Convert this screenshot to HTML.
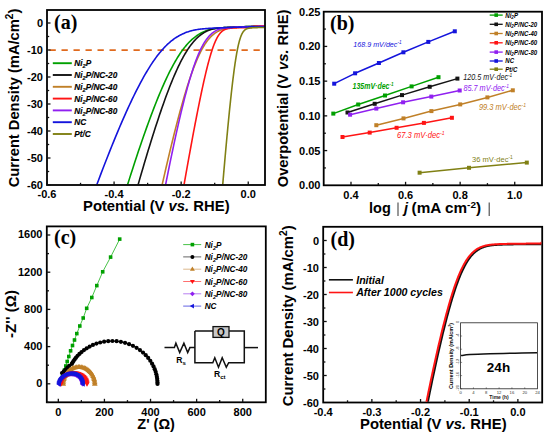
<!DOCTYPE html><html><head><meta charset="utf-8"><style>html,body{margin:0;padding:0;background:#fff;}svg{display:block;}</style></head><body>
<svg width="550" height="436" viewBox="0 0 550 436">
<rect width="550" height="436" fill="#fff"/>
<clipPath id="ca"><rect x="47.8" y="10.8" width="216.4" height="173.4"/></clipPath>
<g clip-path="url(#ca)">
<line x1="49.5" y1="50.2" x2="262" y2="50.2" stroke="#e06a1e" stroke-width="1.8" stroke-dasharray="6.3,5.7"/>
<path d="M126.84,187.00 L128.93,180.38 L130.96,174.03 L132.93,167.94 L134.84,162.10 L136.68,156.49 L138.48,151.12 L140.22,145.97 L141.91,141.03 L143.56,136.29 L145.16,131.75 L146.71,127.39 L148.22,123.21 L149.69,119.21 L151.12,115.36 L152.51,111.68 L153.87,108.14 L155.19,104.75 L156.48,101.50 L157.73,98.39 L158.96,95.40 L160.16,92.53 L161.33,89.78 L162.47,87.14 L163.59,84.61 L164.68,82.19 L165.75,79.86 L166.79,77.63 L167.81,75.49 L168.82,73.44 L169.80,71.48 L170.76,69.59 L171.71,67.78 L172.63,66.05 L173.54,64.38 L174.44,62.79 L175.32,61.26 L176.18,59.79 L177.03,58.38 L177.86,57.03 L178.68,55.74 L179.49,54.50 L180.29,53.30 L181.08,52.16 L181.85,51.07 L182.61,50.02 L183.37,49.01 L184.11,48.05 L184.84,47.12 L185.57,46.23 L186.28,45.38 L186.99,44.56 L187.69,43.78 L188.38,43.03 L189.07,42.31 L189.75,41.62 L190.42,40.96 L191.08,40.32 L191.74,39.71 L192.39,39.13 L193.04,38.57 L193.68,38.03 L194.32,37.51 L194.95,37.02 L195.57,36.55 L196.19,36.09 L196.81,35.66 L197.42,35.24 L198.03,34.84 L198.64,34.45 L199.24,34.08 L199.83,33.73 L200.43,33.39 L201.02,33.07 L201.61,32.76 L202.19,32.46 L202.77,32.17 L203.35,31.90 L203.92,31.64 L204.50,31.39 L205.07,31.15 L205.64,30.93 L206.20,30.71 L206.77,30.51 L207.33,30.31 L207.89,30.13 L208.45,29.95 L209.00,29.79 L209.56,29.63 L210.11,29.49 L210.66,29.35 L211.21,29.22 L211.76,29.10 L212.30,28.99 L212.85,28.88 L213.39,28.78 L213.93,28.69 L214.48,28.60 L215.02,28.52 L215.56,28.45 L216.09,28.38 L216.63,28.31 L217.17,28.25 L217.70,28.19 L218.23,28.14 L218.77,28.08 L219.30,28.03 L219.83,27.99 L220.36,27.94 L220.89,27.90 L221.42,27.86 L221.95,27.82 L222.48,27.78 L223.01,27.74 L223.53,27.71 L224.06,27.67 L224.58,27.64 L225.11,27.61 L225.63,27.58 L226.16,27.55 L226.68,27.52 L227.20,27.49 L227.73,27.46 L228.25,27.43 L228.77,27.40 L229.29,27.38 L229.81,27.35 L230.34,27.32 L230.86,27.30 L231.38,27.27 L231.90,27.25 L232.42,27.22 L232.94,27.20 L233.45,27.17 L233.97,27.15 L234.49,27.13 L235.01,27.10 L235.53,27.08 L236.05,27.06 L236.56,27.03 L237.08,27.01 L237.60,26.99 L238.12,26.97 L238.63,26.95 L239.15,26.92 L239.67,26.90 L240.18,26.88 L240.70,26.86 L241.22,26.84 L241.73,26.82 L242.25,26.80 L242.76,26.78 L243.28,26.76 L243.79,26.74 L244.31,26.72 L244.82,26.70 L245.34,26.68 L245.86,26.66 L246.37,26.64 L246.89,26.62 L247.40,26.60 L247.91,26.59 L248.43,26.57 L248.94,26.55 L249.46,26.53 L249.97,26.51 L250.49,26.50 L251.00,26.48 L251.52,26.46 L252.03,26.44 L252.54,26.43 L253.06,26.41 L253.57,26.39 L254.09,26.38 L254.60,26.36 L255.11,26.34 L255.63,26.33 L256.14,26.31 L256.66,26.30 L257.17,26.28 L257.68,26.27 L258.20,26.25 L258.71,26.24 L259.22,26.22 L259.74,26.21 L260.25,26.19 L260.76,26.18 L261.28,26.16 L261.79,26.15 L262.30,26.14 L262.82,26.12 L263.33,26.11 L263.84,26.10 L264.36,26.08 L264.87,26.07 L265.38,26.06 L265.90,26.05 L266.00,25.47" fill="none" stroke="#00a000" stroke-width="1.6" stroke-linejoin="round" stroke-linecap="butt" />
<path d="M137.44,187.00 L139.34,180.37 L141.18,174.02 L142.97,167.92 L144.70,162.08 L146.37,156.47 L148.00,151.10 L149.58,145.94 L151.11,141.00 L152.59,136.26 L154.04,131.71 L155.44,127.35 L156.80,123.17 L158.13,119.16 L159.41,115.32 L160.67,111.63 L161.89,108.09 L163.08,104.70 L164.23,101.45 L165.36,98.33 L166.46,95.34 L167.53,92.47 L168.58,89.72 L169.60,87.08 L170.60,84.55 L171.58,82.12 L172.53,79.79 L173.46,77.56 L174.37,75.42 L175.27,73.37 L176.14,71.40 L177.00,69.51 L177.83,67.70 L178.66,65.97 L179.46,64.30 L180.26,62.71 L181.03,61.17 L181.80,59.71 L182.55,58.30 L183.28,56.95 L184.01,55.65 L184.72,54.41 L185.42,53.22 L186.12,52.08 L186.80,50.98 L187.47,49.93 L188.13,48.92 L188.78,47.96 L189.43,47.03 L190.06,46.14 L190.69,45.29 L191.31,44.47 L191.92,43.69 L192.53,42.94 L193.12,42.22 L193.72,41.53 L194.30,40.86 L194.88,40.23 L195.46,39.62 L196.02,39.03 L196.59,38.47 L197.14,37.93 L197.70,37.42 L198.25,36.92 L198.79,36.45 L199.33,36.00 L199.87,35.56 L200.40,35.14 L200.92,34.74 L201.45,34.36 L201.97,33.99 L202.49,33.63 L203.00,33.30 L203.51,32.97 L204.02,32.66 L204.53,32.36 L205.03,32.08 L205.53,31.80 L206.03,31.54 L206.52,31.29 L207.01,31.06 L207.50,30.83 L207.99,30.61 L208.48,30.41 L208.96,30.21 L209.45,30.03 L209.93,29.86 L210.41,29.69 L210.88,29.54 L211.36,29.39 L211.83,29.26 L212.31,29.13 L212.78,29.01 L213.25,28.90 L213.72,28.80 L214.19,28.70 L214.65,28.61 L215.12,28.53 L215.58,28.45 L216.05,28.38 L216.51,28.32 L216.97,28.25 L217.43,28.19 L217.89,28.14 L218.35,28.09 L218.81,28.04 L219.26,27.99 L219.72,27.95 L220.18,27.91 L220.63,27.87 L221.09,27.83 L221.54,27.80 L221.99,27.76 L222.45,27.73 L222.90,27.70 L223.35,27.67 L223.80,27.64 L224.25,27.61 L224.70,27.58 L225.15,27.55 L225.60,27.52 L226.05,27.50 L226.50,27.47 L226.95,27.45 L227.39,27.42 L227.84,27.40 L228.29,27.38 L228.73,27.35 L229.18,27.33 L229.63,27.31 L230.07,27.29 L230.52,27.26 L230.96,27.24 L231.41,27.22 L231.85,27.20 L232.30,27.18 L232.74,27.16 L233.19,27.14 L233.63,27.12 L234.07,27.10 L234.52,27.08 L234.96,27.06 L235.40,27.04 L235.85,27.02 L236.29,27.00 L236.73,26.98 L237.17,26.96 L237.62,26.94 L238.06,26.92 L238.50,26.91 L238.94,26.89 L239.39,26.87 L239.83,26.85 L240.27,26.83 L240.71,26.81 L241.15,26.80 L241.59,26.78 L242.04,26.76 L242.48,26.74 L242.92,26.73 L243.36,26.71 L243.80,26.69 L244.24,26.68 L244.68,26.66 L245.12,26.64 L245.56,26.63 L246.00,26.61 L246.44,26.59 L246.88,26.58 L247.33,26.56 L247.77,26.54 L248.21,26.53 L248.65,26.51 L249.09,26.50 L249.53,26.48 L249.97,26.47 L250.41,26.45 L250.85,26.44 L251.29,26.42 L251.73,26.40 L252.17,26.39 L252.61,26.38 L253.05,26.36 L253.49,26.35 L253.93,26.33 L254.37,26.32 L254.81,26.30 L255.25,26.29 L255.69,26.28 L256.13,26.26 L256.57,26.25 L257.01,26.23 L257.45,26.22 L257.89,26.21 L258.32,26.19 L258.76,26.18 L259.20,26.17 L259.64,26.16 L260.08,26.14 L260.52,26.13 L260.96,26.12 L261.40,26.10 L261.84,26.09 L262.28,26.08 L262.72,26.07 L263.16,26.06 L263.60,26.05 L264.04,26.03 L264.48,26.02 L264.92,26.01 L265.36,26.00 L265.80,25.99 L266.00,25.47" fill="none" stroke="#141414" stroke-width="1.6" stroke-linejoin="round" stroke-linecap="butt" />
<path d="M161.65,187.00 L163.13,180.41 L164.58,174.09 L165.97,168.03 L167.33,162.21 L168.64,156.64 L169.92,151.29 L171.16,146.17 L172.36,141.25 L173.53,136.53 L174.66,132.01 L175.76,127.67 L176.84,123.51 L177.88,119.53 L178.90,115.70 L179.88,112.03 L180.85,108.51 L181.79,105.14 L182.70,101.90 L183.59,98.80 L184.46,95.82 L185.31,92.97 L186.14,90.23 L186.95,87.61 L187.74,85.09 L188.52,82.67 L189.28,80.36 L190.02,78.14 L190.74,76.01 L191.45,73.97 L192.15,72.01 L192.83,70.13 L193.50,68.33 L194.16,66.60 L194.80,64.94 L195.44,63.35 L196.06,61.83 L196.67,60.37 L197.27,58.97 L197.86,57.62 L198.45,56.34 L199.02,55.10 L199.58,53.91 L200.14,52.78 L200.69,51.69 L201.23,50.64 L201.76,49.64 L202.29,48.68 L202.81,47.75 L203.32,46.87 L203.83,46.02 L204.33,45.21 L204.82,44.43 L205.31,43.68 L205.80,42.96 L206.28,42.27 L206.75,41.61 L207.22,40.98 L207.69,40.37 L208.15,39.79 L208.60,39.23 L209.06,38.70 L209.51,38.19 L209.95,37.69 L210.39,37.22 L210.83,36.77 L211.27,36.33 L211.70,35.92 L212.13,35.52 L212.56,35.13 L212.98,34.77 L213.41,34.42 L213.83,34.08 L214.24,33.75 L214.66,33.44 L215.07,33.15 L215.48,32.86 L215.89,32.59 L216.30,32.32 L216.70,32.07 L217.10,31.83 L217.50,31.60 L217.90,31.38 L218.30,31.17 L218.70,30.97 L219.09,30.78 L219.49,30.60 L219.88,30.42 L220.27,30.25 L220.66,30.09 L221.05,29.94 L221.44,29.80 L221.83,29.66 L222.21,29.53 L222.60,29.41 L222.98,29.29 L223.36,29.18 L223.74,29.08 L224.13,28.98 L224.51,28.89 L224.89,28.80 L225.26,28.72 L225.64,28.64 L226.02,28.57 L226.40,28.50 L226.77,28.43 L227.15,28.37 L227.52,28.31 L227.90,28.25 L228.27,28.20 L228.65,28.15 L229.02,28.10 L229.39,28.06 L229.76,28.02 L230.13,27.98 L230.51,27.94 L230.88,27.90 L231.25,27.86 L231.62,27.83 L231.99,27.80 L232.36,27.76 L232.73,27.73 L233.09,27.71 L233.46,27.68 L233.83,27.65 L234.20,27.62 L234.57,27.60 L234.93,27.57 L235.30,27.55 L235.67,27.53 L236.04,27.50 L236.40,27.48 L236.77,27.46 L237.14,27.44 L237.50,27.42 L237.87,27.40 L238.23,27.38 L238.60,27.36 L238.96,27.34 L239.33,27.32 L239.69,27.31 L240.06,27.29 L240.42,27.27 L240.79,27.26 L241.15,27.24 L241.52,27.22 L241.88,27.21 L242.25,27.19 L242.61,27.18 L242.97,27.16 L243.34,27.15 L243.70,27.13 L244.07,27.12 L244.43,27.10 L244.79,27.09 L245.16,27.07 L245.52,27.06 L245.88,27.05 L246.25,27.03 L246.61,27.02 L246.97,27.01 L247.34,27.00 L247.70,26.98 L248.06,26.97 L248.42,26.96 L248.79,26.95 L249.15,26.94 L249.51,26.92 L249.88,26.91 L250.24,26.90 L250.60,26.89 L250.96,26.88 L251.33,26.87 L251.69,26.86 L252.05,26.85 L252.41,26.84 L252.78,26.83 L253.14,26.82 L253.50,26.80 L253.86,26.79 L254.23,26.79 L254.59,26.78 L254.95,26.77 L255.31,26.76 L255.67,26.75 L256.04,26.74 L256.40,26.73 L256.76,26.72 L257.12,26.71 L257.49,26.70 L257.85,26.69 L258.21,26.69 L258.57,26.68 L258.93,26.67 L259.30,26.66 L259.66,26.65 L260.02,26.64 L260.38,26.64 L260.74,26.63 L261.11,26.62 L261.47,26.61 L261.83,26.61 L262.19,26.60 L262.55,26.59 L262.92,26.59 L263.28,26.58 L263.64,26.57 L264.00,26.56 L264.36,26.56 L264.73,26.55 L265.09,26.54 L265.45,26.54 L265.81,26.53 L266.00,25.67" fill="none" stroke="#c08028" stroke-width="1.6" stroke-linejoin="round" stroke-linecap="butt" />
<path d="M183.66,187.00 L184.80,180.46 L185.91,174.19 L186.98,168.18 L188.01,162.41 L189.00,156.88 L189.97,151.58 L190.90,146.49 L191.80,141.62 L192.66,136.94 L193.50,132.45 L194.32,128.15 L195.10,124.02 L195.87,120.06 L196.60,116.27 L197.32,112.63 L198.01,109.14 L198.68,105.79 L199.33,102.58 L199.96,99.50 L200.57,96.54 L201.17,93.71 L201.74,90.99 L202.30,88.39 L202.85,85.89 L203.38,83.49 L203.89,81.19 L204.39,78.99 L204.88,76.88 L205.35,74.85 L205.81,72.90 L206.26,71.04 L206.70,69.25 L207.13,67.54 L207.54,65.89 L207.95,64.31 L208.35,62.80 L208.73,61.35 L209.11,59.96 L209.48,58.62 L209.85,57.34 L210.20,56.12 L210.55,54.94 L210.89,53.81 L211.22,52.73 L211.55,51.69 L211.87,50.69 L212.18,49.74 L212.49,48.82 L212.79,47.94 L213.09,47.10 L213.38,46.29 L213.67,45.52 L213.95,44.77 L214.23,44.06 L214.50,43.38 L214.77,42.72 L215.03,42.09 L215.29,41.49 L215.55,40.91 L215.81,40.36 L216.06,39.83 L216.30,39.32 L216.55,38.83 L216.79,38.36 L217.03,37.91 L217.27,37.48 L217.50,37.06 L217.73,36.66 L217.96,36.28 L218.18,35.92 L218.41,35.57 L218.63,35.23 L218.85,34.91 L219.06,34.60 L219.28,34.31 L219.49,34.02 L219.71,33.75 L219.92,33.49 L220.13,33.24 L220.33,33.00 L220.54,32.77 L220.74,32.55 L220.95,32.34 L221.15,32.13 L221.35,31.94 L221.55,31.75 L221.75,31.57 L221.94,31.40 L222.14,31.24 L222.33,31.08 L222.53,30.93 L222.72,30.79 L222.91,30.65 L223.10,30.52 L223.30,30.40 L223.49,30.28 L223.67,30.17 L223.86,30.06 L224.05,29.95 L224.24,29.85 L224.42,29.76 L224.61,29.67 L224.79,29.58 L224.98,29.50 L225.16,29.42 L225.35,29.35 L225.53,29.28 L225.71,29.21 L225.89,29.15 L226.08,29.09 L226.26,29.03 L226.44,28.97 L226.62,28.92 L226.80,28.87 L226.98,28.82 L227.16,28.78 L227.34,28.74 L227.52,28.70 L227.69,28.66 L227.87,28.62 L228.05,28.58 L228.23,28.55 L228.40,28.52 L228.58,28.49 L228.76,28.46 L228.94,28.43 L229.11,28.40 L229.29,28.38 L229.46,28.35 L229.64,28.33 L229.82,28.30 L229.99,28.28 L230.17,28.26 L230.34,28.24 L230.52,28.22 L230.69,28.20 L230.87,28.19 L231.04,28.17 L231.22,28.15 L231.39,28.14 L231.56,28.12 L231.74,28.11 L231.91,28.09 L232.09,28.08 L232.26,28.07 L232.43,28.05 L232.61,28.04 L232.78,28.03 L232.95,28.02 L233.13,28.01 L233.30,28.00 L233.47,27.99 L233.65,27.98 L233.82,27.97 L233.99,27.96 L234.17,27.95 L234.34,27.94 L234.51,27.93 L234.68,27.92 L234.86,27.91 L235.03,27.90 L235.20,27.90 L235.38,27.89 L235.55,27.88 L235.72,27.87 L235.89,27.87 L236.06,27.86 L236.24,27.85 L236.41,27.85 L236.58,27.84 L236.75,27.84 L236.93,27.83 L237.10,27.82 L237.27,27.82 L237.44,27.81 L237.61,27.81 L237.79,27.80 L237.96,27.80 L238.13,27.79 L238.30,27.79 L238.47,27.78 L238.65,27.78 L238.82,27.77 L238.99,27.77 L239.16,27.76 L239.33,27.76 L239.51,27.75 L239.68,27.75 L239.85,27.74 L240.02,27.74 L240.19,27.74 L240.37,27.73 L240.54,27.73 L240.71,27.72 L240.88,27.72 L241.05,27.72 L241.22,27.71 L241.40,27.71 L241.57,27.71 L241.74,27.70 L241.91,27.70 L242.08,27.70 L242.25,27.69 L242.43,27.69 L242.60,27.69 L242.77,27.68 L242.94,27.68 L243.11,27.68 L243.28,27.67 L243.46,27.67 L243.63,27.67 L243.80,27.66 L243.97,27.66 L244.14,27.66 L244.31,27.66 L244.48,27.65 L244.66,27.65 L244.83,27.65 L245.00,27.65 L245.17,27.64 L245.34,27.64 L245.51,27.64 L245.69,27.63 L245.86,27.63 L246.03,27.63 L246.20,27.63 L246.37,27.62 L246.54,27.62 L246.71,27.62 L246.89,27.62 L247.06,27.62 L247.23,27.61 L247.40,27.61 L247.57,27.61 L247.74,27.61 L247.91,27.60 L248.09,27.60 L248.26,27.60 L248.43,27.60 L248.60,27.60 L248.77,27.59 L248.94,27.59 L249.12,27.59 L249.29,27.59 L249.46,27.59 L249.63,27.58 L249.80,27.58 L249.97,27.58 L250.14,27.58 L250.32,27.58 L250.49,27.57 L250.66,27.57 L250.83,27.57 L251.00,27.57 L251.17,27.57 L251.34,27.56 L251.52,27.56 L251.69,27.56 L251.86,27.56 L253.27,26.25 L254.69,26.18 L256.10,26.12 L257.52,26.06 L258.93,25.99 L260.34,25.93 L261.76,25.87 L263.17,25.80 L264.59,25.74 L266.00,25.67" fill="none" stroke="#ff1414" stroke-width="1.6" stroke-linejoin="round" stroke-linecap="butt" />
<path d="M165.15,187.00 L166.46,180.40 L167.72,174.06 L168.95,167.99 L170.15,162.17 L171.30,156.58 L172.43,151.22 L173.52,146.09 L174.58,141.16 L175.61,136.43 L176.61,131.90 L177.58,127.56 L178.53,123.39 L179.45,119.39 L180.34,115.56 L181.22,111.88 L182.07,108.36 L182.90,104.98 L183.71,101.74 L184.50,98.63 L185.27,95.65 L186.02,92.79 L186.76,90.04 L187.47,87.41 L188.18,84.89 L188.86,82.47 L189.53,80.15 L190.19,77.93 L190.84,75.80 L191.47,73.75 L192.09,71.79 L192.69,69.91 L193.29,68.10 L193.87,66.37 L194.45,64.71 L195.01,63.12 L195.57,61.59 L196.11,60.13 L196.65,58.72 L197.18,57.38 L197.70,56.09 L198.21,54.85 L198.71,53.66 L199.21,52.52 L199.70,51.43 L200.18,50.38 L200.66,49.38 L201.13,48.42 L201.59,47.49 L202.05,46.61 L202.51,45.76 L202.96,44.94 L203.40,44.16 L203.84,43.41 L204.27,42.69 L204.70,42.00 L205.13,41.34 L205.55,40.71 L205.97,40.10 L206.38,39.52 L206.79,38.96 L207.20,38.42 L207.60,37.91 L208.00,37.41 L208.40,36.94 L208.80,36.49 L209.19,36.05 L209.58,35.64 L209.97,35.24 L210.35,34.85 L210.73,34.48 L211.11,34.13 L211.49,33.79 L211.87,33.47 L212.24,33.16 L212.61,32.86 L212.98,32.57 L213.35,32.30 L213.72,32.04 L214.08,31.79 L214.45,31.55 L214.81,31.32 L215.17,31.10 L215.53,30.89 L215.89,30.69 L216.24,30.50 L216.60,30.31 L216.95,30.14 L217.31,29.97 L217.66,29.82 L218.01,29.67 L218.36,29.53 L218.71,29.39 L219.06,29.27 L219.41,29.15 L219.75,29.04 L220.10,28.93 L220.45,28.83 L220.79,28.74 L221.13,28.65 L221.48,28.57 L221.82,28.49 L222.16,28.41 L222.50,28.35 L222.84,28.28 L223.18,28.22 L223.52,28.16 L223.86,28.11 L224.20,28.06 L224.54,28.01 L224.88,27.97 L225.22,27.92 L225.55,27.88 L225.89,27.84 L226.23,27.81 L226.56,27.77 L226.90,27.74 L227.23,27.71 L227.57,27.68 L227.90,27.65 L228.24,27.62 L228.57,27.59 L228.90,27.57 L229.24,27.54 L229.57,27.52 L229.91,27.49 L230.24,27.47 L230.57,27.45 L230.90,27.43 L231.24,27.41 L231.57,27.38 L231.90,27.37 L232.23,27.35 L232.56,27.33 L232.89,27.31 L233.23,27.29 L233.56,27.27 L233.89,27.25 L234.22,27.24 L234.55,27.22 L234.88,27.20 L235.21,27.19 L235.54,27.17 L235.87,27.16 L236.20,27.14 L236.53,27.13 L236.86,27.11 L237.19,27.10 L237.52,27.08 L237.85,27.07 L238.18,27.05 L238.51,27.04 L238.84,27.03 L239.17,27.01 L239.50,27.00 L239.83,26.98 L240.16,26.97 L240.48,26.96 L240.81,26.95 L241.14,26.93 L241.47,26.92 L241.80,26.91 L242.13,26.90 L242.46,26.88 L242.79,26.87 L243.12,26.86 L243.44,26.85 L243.77,26.84 L244.10,26.82 L244.43,26.81 L244.76,26.80 L245.09,26.79 L245.41,26.78 L245.74,26.77 L246.07,26.76 L246.40,26.75 L246.73,26.73 L247.06,26.72 L247.38,26.71 L247.71,26.70 L248.04,26.69 L248.37,26.68 L248.70,26.67 L249.03,26.66 L249.35,26.65 L249.68,26.64 L250.01,26.63 L250.34,26.62 L250.67,26.61 L250.99,26.60 L251.32,26.59 L251.65,26.59 L251.98,26.58 L252.31,26.57 L252.63,26.56 L252.96,26.55 L253.29,26.54 L253.62,26.53 L253.95,26.52 L254.27,26.51 L254.60,26.51 L254.93,26.50 L255.26,26.49 L255.59,26.48 L255.91,26.47 L256.24,26.46 L256.57,26.46 L256.90,26.45 L257.22,26.44 L257.55,26.43 L257.88,26.42 L258.21,26.42 L258.54,26.41 L258.86,26.40 L259.19,26.39 L259.52,26.39 L259.85,26.38 L260.17,26.37 L260.50,26.37 L260.83,26.36 L261.16,26.35 L261.49,26.35 L261.81,26.34 L262.14,26.33 L262.47,26.33 L262.80,26.32 L263.12,26.31 L263.45,26.31 L263.78,26.30 L264.11,26.29 L264.44,26.29 L264.76,26.28 L265.09,26.28 L265.42,26.27 L265.75,26.26 L266.00,25.47" fill="none" stroke="#9020f0" stroke-width="1.6" stroke-linejoin="round" stroke-linecap="butt" />
<path d="M95.93,187.00 L98.41,180.42 L100.80,174.11 L103.13,168.06 L105.38,162.26 L107.56,156.70 L109.68,151.36 L111.73,146.24 L113.72,141.34 L115.66,136.63 L117.54,132.11 L119.37,127.79 L121.14,123.63 L122.87,119.65 L124.55,115.83 L126.19,112.17 L127.78,108.66 L129.33,105.29 L130.84,102.06 L132.31,98.96 L133.75,95.99 L135.15,93.14 L136.52,90.41 L137.85,87.79 L139.16,85.28 L140.43,82.87 L141.68,80.56 L142.90,78.34 L144.09,76.21 L145.26,74.17 L146.41,72.22 L147.53,70.34 L148.63,68.55 L149.70,66.82 L150.76,65.17 L151.80,63.58 L152.82,62.06 L153.82,60.60 L154.81,59.20 L155.77,57.86 L156.73,56.57 L157.66,55.34 L158.58,54.15 L159.49,53.02 L160.39,51.93 L161.27,50.89 L162.14,49.89 L163.00,48.93 L163.85,48.01 L164.68,47.12 L165.51,46.28 L166.32,45.46 L167.13,44.68 L167.93,43.94 L168.71,43.22 L169.49,42.53 L170.26,41.87 L171.03,41.24 L171.78,40.64 L172.53,40.06 L173.28,39.50 L174.01,38.96 L174.74,38.45 L175.46,37.96 L176.18,37.49 L176.89,37.04 L177.60,36.60 L178.30,36.19 L179.00,35.79 L179.69,35.41 L180.38,35.04 L181.06,34.69 L181.74,34.35 L182.41,34.03 L183.09,33.72 L183.75,33.42 L184.42,33.14 L185.08,32.86 L185.74,32.60 L186.39,32.36 L187.04,32.12 L187.69,31.89 L188.34,31.67 L188.98,31.47 L189.62,31.27 L190.26,31.08 L190.89,30.90 L191.53,30.74 L192.16,30.58 L192.79,30.42 L193.42,30.28 L194.04,30.15 L194.67,30.02 L195.29,29.90 L195.91,29.78 L196.53,29.68 L197.15,29.58 L197.76,29.48 L198.38,29.39 L198.99,29.31 L199.60,29.23 L200.21,29.15 L200.82,29.08 L201.43,29.02 L202.04,28.95 L202.64,28.89 L203.25,28.84 L203.85,28.78 L204.46,28.73 L205.06,28.68 L205.66,28.63 L206.26,28.58 L206.86,28.54 L207.46,28.50 L208.06,28.46 L208.66,28.42 L209.26,28.38 L209.85,28.34 L210.45,28.31 L211.04,28.27 L211.64,28.24 L212.23,28.20 L212.83,28.17 L213.42,28.14 L214.01,28.11 L214.61,28.08 L215.20,28.05 L215.79,28.02 L216.38,27.99 L216.97,27.96 L217.56,27.93 L218.15,27.90 L218.74,27.88 L219.33,27.85 L219.92,27.83 L220.51,27.80 L221.10,27.77 L221.69,27.75 L222.28,27.72 L222.86,27.70 L223.45,27.68 L224.04,27.65 L224.63,27.63 L225.21,27.61 L225.80,27.58 L226.39,27.56 L226.97,27.54 L227.56,27.52 L228.14,27.50 L228.73,27.48 L229.32,27.46 L229.90,27.44 L230.49,27.41 L231.07,27.39 L231.66,27.38 L232.24,27.36 L232.83,27.34 L233.41,27.32 L234.00,27.30 L234.58,27.28 L235.16,27.26 L235.75,27.25 L236.33,27.23 L236.92,27.21 L237.50,27.19 L238.09,27.18 L238.67,27.16 L239.25,27.14 L239.84,27.13 L240.42,27.11 L241.00,27.10 L241.59,27.08 L242.17,27.07 L242.75,27.05 L243.34,27.04 L243.92,27.02 L244.50,27.01 L245.09,27.00 L245.67,26.98 L246.25,26.97 L246.84,26.96 L247.42,26.94 L248.00,26.93 L248.58,26.92 L249.17,26.91 L249.75,26.89 L250.33,26.88 L250.92,26.87 L251.50,26.86 L252.08,26.85 L252.66,26.84 L253.25,26.83 L253.83,26.82 L254.41,26.81 L254.99,26.80 L255.58,26.79 L256.16,26.78 L256.74,26.77 L257.32,26.76 L257.91,26.75 L258.49,26.75 L259.07,26.74 L259.65,26.73 L260.24,26.72 L260.82,26.71 L261.40,26.71 L261.98,26.70 L262.57,26.69 L263.15,26.69 L263.73,26.68 L264.31,26.67 L264.89,26.67 L265.48,26.66 L266.00,25.37" fill="none" stroke="#1414dc" stroke-width="1.6" stroke-linejoin="round" stroke-linecap="butt" />
<path d="M222.52,187.00 L223.08,180.44 L223.62,174.16 L224.14,168.13 L224.65,162.35 L225.14,156.80 L225.61,151.48 L226.07,146.38 L226.52,141.49 L226.95,136.80 L227.38,132.30 L227.78,127.98 L228.18,123.84 L228.57,119.88 L228.94,116.07 L229.31,112.42 L229.66,108.92 L230.01,105.56 L230.35,102.34 L230.68,99.25 L231.00,96.29 L231.31,93.45 L231.61,90.73 L231.91,88.12 L232.20,85.61 L232.48,83.21 L232.76,80.90 L233.03,78.69 L233.29,76.57 L233.55,74.54 L233.80,72.59 L234.05,70.72 L234.29,68.93 L234.53,67.21 L234.76,65.56 L234.99,63.98 L235.22,62.46 L235.44,61.01 L235.65,59.61 L235.87,58.28 L236.08,56.99 L236.28,55.76 L236.48,54.58 L236.68,53.45 L236.88,52.36 L237.07,51.32 L237.26,50.32 L237.45,49.37 L237.63,48.45 L237.82,47.57 L238.00,46.72 L238.17,45.91 L238.35,45.14 L238.52,44.39 L238.70,43.68 L238.87,42.99 L239.03,42.34 L239.20,41.71 L239.36,41.10 L239.53,40.52 L239.69,39.97 L239.85,39.43 L240.00,38.92 L240.16,38.43 L240.32,37.96 L240.47,37.51 L240.62,37.08 L240.78,36.66 L240.93,36.27 L241.08,35.88 L241.22,35.52 L241.37,35.17 L241.52,34.83 L241.66,34.51 L241.81,34.20 L241.95,33.91 L242.10,33.62 L242.24,33.35 L242.38,33.09 L242.52,32.84 L242.66,32.61 L242.80,32.38 L242.94,32.16 L243.08,31.95 L243.22,31.75 L243.35,31.56 L243.49,31.38 L243.63,31.21 L243.76,31.04 L243.90,30.88 L244.03,30.73 L244.17,30.59 L244.30,30.45 L244.43,30.32 L244.57,30.19 L244.70,30.07 L244.83,29.96 L244.96,29.85 L245.10,29.75 L245.23,29.65 L245.36,29.56 L245.49,29.47 L245.62,29.39 L245.75,29.31 L245.88,29.23 L246.01,29.16 L246.14,29.09 L246.27,29.02 L246.40,28.96 L246.53,28.90 L246.66,28.85 L246.79,28.79 L246.91,28.74 L247.04,28.69 L247.17,28.65 L247.30,28.60 L247.43,28.56 L247.55,28.52 L247.68,28.48 L247.81,28.45 L247.94,28.41 L248.06,28.38 L248.19,28.35 L248.32,28.31 L248.45,28.29 L248.57,28.26 L248.70,28.23 L248.83,28.21 L248.95,28.18 L249.08,28.16 L249.20,28.14 L249.33,28.12 L249.46,28.09 L249.58,28.08 L249.71,28.06 L249.83,28.04 L249.96,28.02 L250.09,28.00 L250.21,27.99 L250.34,27.97 L250.46,27.96 L250.59,27.94 L250.71,27.93 L250.84,27.92 L250.97,27.90 L251.09,27.89 L251.22,27.88 L251.34,27.87 L251.47,27.86 L251.59,27.85 L251.72,27.84 L251.84,27.83 L251.97,27.82 L252.09,27.81 L252.22,27.80 L252.34,27.79 L252.47,27.78 L252.59,27.77 L252.72,27.77 L252.84,27.76 L252.97,27.75 L253.09,27.74 L253.22,27.74 L253.34,27.73 L253.47,27.72 L253.59,27.72 L253.72,27.71 L253.84,27.70 L253.97,27.70 L254.09,27.69 L254.22,27.69 L254.34,27.68 L254.47,27.68 L254.59,27.67 L254.71,27.67 L254.84,27.66 L254.96,27.66 L255.09,27.65 L255.21,27.65 L255.34,27.64 L255.46,27.64 L255.59,27.63 L255.71,27.63 L255.84,27.63 L255.96,27.62 L256.09,27.62 L256.21,27.61 L256.33,27.61 L256.46,27.61 L256.58,27.60 L256.71,27.60 L256.83,27.60 L256.96,27.59 L257.08,27.59 L257.21,27.59 L257.33,27.58 L257.45,27.58 L257.58,27.58 L257.70,27.57 L257.83,27.57 L257.95,27.57 L258.08,27.56 L258.20,27.56 L258.33,27.56 L258.45,27.55 L258.57,27.55 L258.70,27.55 L258.82,27.55 L258.95,27.54 L259.07,27.54 L259.20,27.54 L259.32,27.54 L259.45,27.53 L259.57,27.53 L259.69,27.53 L259.82,27.53 L259.94,27.52 L260.07,27.52 L260.19,27.52 L260.32,27.52 L260.44,27.51 L260.57,27.51 L260.69,27.51 L260.81,27.51 L260.94,27.50 L261.06,27.50 L261.19,27.50 L261.31,27.50 L261.44,27.50 L261.56,27.49 L261.68,27.49 L261.81,27.49 L261.93,27.49 L262.06,27.48 L262.18,27.48 L262.31,27.48 L262.43,27.48 L262.56,27.48 L262.68,27.47 L262.80,27.47 L262.93,27.47 L263.05,27.47 L263.18,27.47 L263.30,27.46 L263.43,27.46 L263.55,27.46 L263.67,27.46 L263.80,27.46 L263.92,27.45 L264.05,27.45 L264.17,27.45 L264.30,27.45 L264.42,27.45 L264.55,27.44 L264.67,27.44 L264.79,27.44 L264.92,27.44 L265.04,27.44 L265.17,27.44 L265.29,27.43 L265.36,25.90 L265.43,25.90 L265.50,25.90 L265.57,25.89 L265.65,25.89 L265.72,25.89 L265.79,25.88 L265.86,25.88 L265.93,25.88 L266.00,25.87" fill="none" stroke="#808014" stroke-width="1.6" stroke-linejoin="round" stroke-linecap="butt" />
</g>
<rect x="47" y="10" width="218" height="175" fill="none" stroke="#000" stroke-width="1.8"/>
<line x1="47.00" y1="185" x2="47.00" y2="181.5" stroke="#111" stroke-width="1.3"/>
<line x1="80.54" y1="185" x2="80.54" y2="182.8" stroke="#111" stroke-width="1.3"/>
<line x1="114.08" y1="185" x2="114.08" y2="181.5" stroke="#111" stroke-width="1.3"/>
<line x1="147.62" y1="185" x2="147.62" y2="182.8" stroke="#111" stroke-width="1.3"/>
<line x1="181.16" y1="185" x2="181.16" y2="181.5" stroke="#111" stroke-width="1.3"/>
<line x1="214.70" y1="185" x2="214.70" y2="182.8" stroke="#111" stroke-width="1.3"/>
<line x1="248.24" y1="185" x2="248.24" y2="181.5" stroke="#111" stroke-width="1.3"/>
<line x1="47" y1="185.00" x2="50.5" y2="185.00" stroke="#111" stroke-width="1.3"/>
<line x1="47" y1="171.50" x2="49.2" y2="171.50" stroke="#111" stroke-width="1.3"/>
<line x1="47" y1="158.00" x2="50.5" y2="158.00" stroke="#111" stroke-width="1.3"/>
<line x1="47" y1="144.50" x2="49.2" y2="144.50" stroke="#111" stroke-width="1.3"/>
<line x1="47" y1="131.00" x2="50.5" y2="131.00" stroke="#111" stroke-width="1.3"/>
<line x1="47" y1="117.50" x2="49.2" y2="117.50" stroke="#111" stroke-width="1.3"/>
<line x1="47" y1="104.00" x2="50.5" y2="104.00" stroke="#111" stroke-width="1.3"/>
<line x1="47" y1="90.50" x2="49.2" y2="90.50" stroke="#111" stroke-width="1.3"/>
<line x1="47" y1="77.00" x2="50.5" y2="77.00" stroke="#111" stroke-width="1.3"/>
<line x1="47" y1="63.50" x2="49.2" y2="63.50" stroke="#111" stroke-width="1.3"/>
<line x1="47" y1="50.00" x2="50.5" y2="50.00" stroke="#111" stroke-width="1.3"/>
<line x1="47" y1="36.50" x2="49.2" y2="36.50" stroke="#111" stroke-width="1.3"/>
<line x1="47" y1="23.00" x2="50.5" y2="23.00" stroke="#111" stroke-width="1.3"/>
<text x="47.00" y="198.00" font-family='"Liberation Sans", sans-serif' font-size="11" font-weight="bold" font-style="normal" fill="#000" text-anchor="middle" >-0.6</text>
<text x="114.08" y="198.00" font-family='"Liberation Sans", sans-serif' font-size="11" font-weight="bold" font-style="normal" fill="#000" text-anchor="middle" >-0.4</text>
<text x="181.16" y="198.00" font-family='"Liberation Sans", sans-serif' font-size="11" font-weight="bold" font-style="normal" fill="#000" text-anchor="middle" >-0.2</text>
<text x="248.24" y="198.00" font-family='"Liberation Sans", sans-serif' font-size="11" font-weight="bold" font-style="normal" fill="#000" text-anchor="middle" >0.0</text>
<text x="43.00" y="27.00" font-family='"Liberation Sans", sans-serif' font-size="11" font-weight="bold" font-style="normal" fill="#000" text-anchor="end" >0</text>
<text x="43.00" y="54.00" font-family='"Liberation Sans", sans-serif' font-size="11" font-weight="bold" font-style="normal" fill="#000" text-anchor="end" >-10</text>
<text x="43.00" y="81.00" font-family='"Liberation Sans", sans-serif' font-size="11" font-weight="bold" font-style="normal" fill="#000" text-anchor="end" >-20</text>
<text x="43.00" y="108.00" font-family='"Liberation Sans", sans-serif' font-size="11" font-weight="bold" font-style="normal" fill="#000" text-anchor="end" >-30</text>
<text x="43.00" y="135.00" font-family='"Liberation Sans", sans-serif' font-size="11" font-weight="bold" font-style="normal" fill="#000" text-anchor="end" >-40</text>
<text x="43.00" y="162.00" font-family='"Liberation Sans", sans-serif' font-size="11" font-weight="bold" font-style="normal" fill="#000" text-anchor="end" >-50</text>
<text x="43.00" y="189.00" font-family='"Liberation Sans", sans-serif' font-size="11" font-weight="bold" font-style="normal" fill="#000" text-anchor="end" >-60</text>
<text x="54.00" y="29.40" font-family='"Liberation Serif", serif' font-size="20" font-weight="bold" font-style="normal" fill="#000" text-anchor="start" >(a)</text>
<line x1="52.8" y1="63.20" x2="71.8" y2="63.20" stroke="#00a000" stroke-width="1.9"/>
<g transform="translate(74.20,66.30) scale(0.96,1)">
<text x="0.00" y="0.00" font-family='"Liberation Sans", sans-serif' font-size="8.6" font-weight="bold" font-style="italic" fill="#000" text-anchor="start" stroke="#000" stroke-width="0.15">Ni<tspan baseline-shift="-25%" font-size="6">2</tspan>P</text>
</g>
<line x1="52.8" y1="75.00" x2="71.8" y2="75.00" stroke="#141414" stroke-width="1.9"/>
<g transform="translate(74.20,78.10) scale(0.96,1)">
<text x="0.00" y="0.00" font-family='"Liberation Sans", sans-serif' font-size="8.6" font-weight="bold" font-style="italic" fill="#000" text-anchor="start" stroke="#000" stroke-width="0.15">Ni<tspan baseline-shift="-25%" font-size="6">2</tspan>P/NC-20</text>
</g>
<line x1="52.8" y1="86.80" x2="71.8" y2="86.80" stroke="#c08028" stroke-width="1.9"/>
<g transform="translate(74.20,89.90) scale(0.96,1)">
<text x="0.00" y="0.00" font-family='"Liberation Sans", sans-serif' font-size="8.6" font-weight="bold" font-style="italic" fill="#000" text-anchor="start" stroke="#000" stroke-width="0.15">Ni<tspan baseline-shift="-25%" font-size="6">2</tspan>P/NC-40</text>
</g>
<line x1="52.8" y1="98.60" x2="71.8" y2="98.60" stroke="#ff1414" stroke-width="1.9"/>
<g transform="translate(74.20,101.70) scale(0.96,1)">
<text x="0.00" y="0.00" font-family='"Liberation Sans", sans-serif' font-size="8.6" font-weight="bold" font-style="italic" fill="#000" text-anchor="start" stroke="#000" stroke-width="0.15">Ni<tspan baseline-shift="-25%" font-size="6">2</tspan>P/NC-60</text>
</g>
<line x1="52.8" y1="110.40" x2="71.8" y2="110.40" stroke="#9020f0" stroke-width="1.9"/>
<g transform="translate(74.20,113.50) scale(0.96,1)">
<text x="0.00" y="0.00" font-family='"Liberation Sans", sans-serif' font-size="8.6" font-weight="bold" font-style="italic" fill="#000" text-anchor="start" stroke="#000" stroke-width="0.15">Ni<tspan baseline-shift="-25%" font-size="6">2</tspan>P/NC-80</text>
</g>
<line x1="52.8" y1="122.20" x2="71.8" y2="122.20" stroke="#1414dc" stroke-width="1.9"/>
<g transform="translate(74.20,125.30) scale(0.96,1)">
<text x="0.00" y="0.00" font-family='"Liberation Sans", sans-serif' font-size="8.6" font-weight="bold" font-style="italic" fill="#000" text-anchor="start" stroke="#000" stroke-width="0.15">NC</text>
</g>
<line x1="52.8" y1="134.00" x2="71.8" y2="134.00" stroke="#808014" stroke-width="1.9"/>
<g transform="translate(74.20,137.10) scale(0.96,1)">
<text x="0.00" y="0.00" font-family='"Liberation Sans", sans-serif' font-size="8.6" font-weight="bold" font-style="italic" fill="#000" text-anchor="start" stroke="#000" stroke-width="0.15">Pt/C</text>
</g>
<text x="83.00" y="211.00" font-family='"Liberation Sans", sans-serif' font-size="14.5" font-weight="bold" font-style="normal" fill="#000" text-anchor="start" textLength="146.6" lengthAdjust="spacingAndGlyphs">Potential (V <tspan font-style="italic">vs.</tspan> RHE)</text>
<g transform="translate(19.4,187.3) rotate(-90)">
<text x="0.00" y="0.00" font-family='"Liberation Sans", sans-serif' font-size="15.5" font-weight="bold" font-style="normal" fill="#000" text-anchor="start" textLength="178.6" lengthAdjust="spacingAndGlyphs">Current Density (mA/cm<tspan baseline-shift="super" font-size="10.5">2</tspan>)</text>
</g>
<path d="M333.30,113.60 L358.20,104.50 L385.00,95.50 L411.60,86.40 L438.50,77.20" fill="none" stroke="#00a000" stroke-width="1.5" stroke-linejoin="round" stroke-linecap="butt" />
<rect x="331.30" y="111.60" width="4.0" height="4.0" fill="#00a000"/>
<rect x="356.20" y="102.50" width="4.0" height="4.0" fill="#00a000"/>
<rect x="383.00" y="93.50" width="4.0" height="4.0" fill="#00a000"/>
<rect x="409.60" y="84.40" width="4.0" height="4.0" fill="#00a000"/>
<rect x="436.50" y="75.20" width="4.0" height="4.0" fill="#00a000"/>
<path d="M347.50,112.50 L374.70,103.80 L402.00,95.10 L429.70,86.80 L457.40,78.60" fill="none" stroke="#141414" stroke-width="1.5" stroke-linejoin="round" stroke-linecap="butt" />
<rect x="345.50" y="110.50" width="4.0" height="4.0" fill="#141414"/>
<rect x="372.70" y="101.80" width="4.0" height="4.0" fill="#141414"/>
<rect x="400.00" y="93.10" width="4.0" height="4.0" fill="#141414"/>
<rect x="427.70" y="84.80" width="4.0" height="4.0" fill="#141414"/>
<rect x="455.40" y="76.60" width="4.0" height="4.0" fill="#141414"/>
<path d="M376.30,125.20 L403.50,118.40 L431.40,111.10 L460.20,104.40 L487.40,97.40 L512.80,90.30" fill="none" stroke="#c08028" stroke-width="1.5" stroke-linejoin="round" stroke-linecap="butt" />
<rect x="374.30" y="123.20" width="4.0" height="4.0" fill="#c08028"/>
<rect x="401.50" y="116.40" width="4.0" height="4.0" fill="#c08028"/>
<rect x="429.40" y="109.10" width="4.0" height="4.0" fill="#c08028"/>
<rect x="458.20" y="102.40" width="4.0" height="4.0" fill="#c08028"/>
<rect x="485.40" y="95.40" width="4.0" height="4.0" fill="#c08028"/>
<rect x="510.80" y="88.30" width="4.0" height="4.0" fill="#c08028"/>
<path d="M342.50,137.00 L369.70,132.60 L396.60,127.80 L423.90,122.90 L451.90,117.80" fill="none" stroke="#ff1414" stroke-width="1.5" stroke-linejoin="round" stroke-linecap="butt" />
<rect x="340.50" y="135.00" width="4.0" height="4.0" fill="#ff1414"/>
<rect x="367.70" y="130.60" width="4.0" height="4.0" fill="#ff1414"/>
<rect x="394.60" y="125.80" width="4.0" height="4.0" fill="#ff1414"/>
<rect x="421.90" y="120.90" width="4.0" height="4.0" fill="#ff1414"/>
<rect x="449.90" y="115.80" width="4.0" height="4.0" fill="#ff1414"/>
<path d="M350.10,114.70 L376.30,108.60 L403.10,102.30 L431.30,96.60 L459.70,90.50" fill="none" stroke="#9020f0" stroke-width="1.5" stroke-linejoin="round" stroke-linecap="butt" />
<rect x="348.10" y="112.70" width="4.0" height="4.0" fill="#9020f0"/>
<rect x="374.30" y="106.60" width="4.0" height="4.0" fill="#9020f0"/>
<rect x="401.10" y="100.30" width="4.0" height="4.0" fill="#9020f0"/>
<rect x="429.30" y="94.60" width="4.0" height="4.0" fill="#9020f0"/>
<rect x="457.70" y="88.50" width="4.0" height="4.0" fill="#9020f0"/>
<path d="M334.20,83.70 L355.10,73.30 L378.90,63.00 L403.40,52.30 L428.30,41.90 L454.80,31.30" fill="none" stroke="#1414dc" stroke-width="1.5" stroke-linejoin="round" stroke-linecap="butt" />
<rect x="332.20" y="81.70" width="4.0" height="4.0" fill="#1414dc"/>
<rect x="353.10" y="71.30" width="4.0" height="4.0" fill="#1414dc"/>
<rect x="376.90" y="61.00" width="4.0" height="4.0" fill="#1414dc"/>
<rect x="401.40" y="50.30" width="4.0" height="4.0" fill="#1414dc"/>
<rect x="426.30" y="39.90" width="4.0" height="4.0" fill="#1414dc"/>
<rect x="452.80" y="29.30" width="4.0" height="4.0" fill="#1414dc"/>
<path d="M419.60,172.70 L469.00,167.80 L526.80,162.60" fill="none" stroke="#808014" stroke-width="1.5" stroke-linejoin="round" stroke-linecap="butt" />
<rect x="417.60" y="170.70" width="4.0" height="4.0" fill="#808014"/>
<rect x="467.00" y="165.80" width="4.0" height="4.0" fill="#808014"/>
<rect x="524.80" y="160.60" width="4.0" height="4.0" fill="#808014"/>
<rect x="323.7" y="11.7" width="218.3" height="173.60000000000002" fill="none" stroke="#000" stroke-width="1.8"/>
<line x1="350.99" y1="185.3" x2="350.99" y2="181.8" stroke="#111" stroke-width="1.3"/>
<line x1="378.28" y1="185.3" x2="378.28" y2="183.10000000000002" stroke="#111" stroke-width="1.3"/>
<line x1="405.57" y1="185.3" x2="405.57" y2="181.8" stroke="#111" stroke-width="1.3"/>
<line x1="432.86" y1="185.3" x2="432.86" y2="183.10000000000002" stroke="#111" stroke-width="1.3"/>
<line x1="460.15" y1="185.3" x2="460.15" y2="181.8" stroke="#111" stroke-width="1.3"/>
<line x1="487.44" y1="185.3" x2="487.44" y2="183.10000000000002" stroke="#111" stroke-width="1.3"/>
<line x1="514.73" y1="185.3" x2="514.73" y2="181.8" stroke="#111" stroke-width="1.3"/>
<line x1="323.7" y1="167.94" x2="325.9" y2="167.94" stroke="#111" stroke-width="1.3"/>
<line x1="323.7" y1="150.58" x2="327.2" y2="150.58" stroke="#111" stroke-width="1.3"/>
<line x1="323.7" y1="133.22" x2="325.9" y2="133.22" stroke="#111" stroke-width="1.3"/>
<line x1="323.7" y1="115.86" x2="327.2" y2="115.86" stroke="#111" stroke-width="1.3"/>
<line x1="323.7" y1="98.50" x2="325.9" y2="98.50" stroke="#111" stroke-width="1.3"/>
<line x1="323.7" y1="81.14" x2="327.2" y2="81.14" stroke="#111" stroke-width="1.3"/>
<line x1="323.7" y1="63.78" x2="325.9" y2="63.78" stroke="#111" stroke-width="1.3"/>
<line x1="323.7" y1="46.42" x2="327.2" y2="46.42" stroke="#111" stroke-width="1.3"/>
<line x1="323.7" y1="29.06" x2="325.9" y2="29.06" stroke="#111" stroke-width="1.3"/>
<text x="350.99" y="198.60" font-family='"Liberation Sans", sans-serif' font-size="11" font-weight="bold" font-style="normal" fill="#000" text-anchor="middle" >0.4</text>
<text x="405.57" y="198.60" font-family='"Liberation Sans", sans-serif' font-size="11" font-weight="bold" font-style="normal" fill="#000" text-anchor="middle" >0.6</text>
<text x="460.15" y="198.60" font-family='"Liberation Sans", sans-serif' font-size="11" font-weight="bold" font-style="normal" fill="#000" text-anchor="middle" >0.8</text>
<text x="514.73" y="198.60" font-family='"Liberation Sans", sans-serif' font-size="11" font-weight="bold" font-style="normal" fill="#000" text-anchor="middle" >1.0</text>
<text x="320.50" y="189.30" font-family='"Liberation Sans", sans-serif' font-size="11" font-weight="bold" font-style="normal" fill="#000" text-anchor="end" >0.00</text>
<text x="320.50" y="154.58" font-family='"Liberation Sans", sans-serif' font-size="11" font-weight="bold" font-style="normal" fill="#000" text-anchor="end" >0.05</text>
<text x="320.50" y="119.86" font-family='"Liberation Sans", sans-serif' font-size="11" font-weight="bold" font-style="normal" fill="#000" text-anchor="end" >0.10</text>
<text x="320.50" y="85.14" font-family='"Liberation Sans", sans-serif' font-size="11" font-weight="bold" font-style="normal" fill="#000" text-anchor="end" >0.15</text>
<text x="320.50" y="50.42" font-family='"Liberation Sans", sans-serif' font-size="11" font-weight="bold" font-style="normal" fill="#000" text-anchor="end" >0.20</text>
<text x="320.50" y="15.70" font-family='"Liberation Sans", sans-serif' font-size="11" font-weight="bold" font-style="normal" fill="#000" text-anchor="end" >0.25</text>
<text x="330.00" y="29.60" font-family='"Liberation Serif", serif' font-size="20" font-weight="bold" font-style="normal" fill="#000" text-anchor="start" >(b)</text>
<line x1="489.7" y1="15.10" x2="502.7" y2="15.10" stroke="#00a000" stroke-width="1.3"/>
<rect x="494.40" y="13.30" width="3.6" height="3.6" fill="#00a000"/>
<g transform="translate(505.30,17.50) scale(0.92,1)">
<text x="0.00" y="0.00" font-family='"Liberation Sans", sans-serif' font-size="6.6" font-weight="bold" font-style="italic" fill="#000" text-anchor="start" >Ni<tspan baseline-shift="-25%" font-size="5">2</tspan>P</text>
</g>
<line x1="489.7" y1="24.30" x2="502.7" y2="24.30" stroke="#141414" stroke-width="1.3"/>
<rect x="494.40" y="22.50" width="3.6" height="3.6" fill="#141414"/>
<g transform="translate(505.30,26.70) scale(0.92,1)">
<text x="0.00" y="0.00" font-family='"Liberation Sans", sans-serif' font-size="6.6" font-weight="bold" font-style="italic" fill="#000" text-anchor="start" >Ni<tspan baseline-shift="-25%" font-size="5">2</tspan>P/NC-20</text>
</g>
<line x1="489.7" y1="33.50" x2="502.7" y2="33.50" stroke="#c08028" stroke-width="1.3"/>
<rect x="494.40" y="31.70" width="3.6" height="3.6" fill="#c08028"/>
<g transform="translate(505.30,35.90) scale(0.92,1)">
<text x="0.00" y="0.00" font-family='"Liberation Sans", sans-serif' font-size="6.6" font-weight="bold" font-style="italic" fill="#000" text-anchor="start" >Ni<tspan baseline-shift="-25%" font-size="5">2</tspan>P/NC-40</text>
</g>
<line x1="489.7" y1="42.80" x2="502.7" y2="42.80" stroke="#ff1414" stroke-width="1.3"/>
<rect x="494.40" y="41.00" width="3.6" height="3.6" fill="#ff1414"/>
<g transform="translate(505.30,45.20) scale(0.92,1)">
<text x="0.00" y="0.00" font-family='"Liberation Sans", sans-serif' font-size="6.6" font-weight="bold" font-style="italic" fill="#000" text-anchor="start" >Ni<tspan baseline-shift="-25%" font-size="5">2</tspan>P/NC-60</text>
</g>
<line x1="489.7" y1="52.10" x2="502.7" y2="52.10" stroke="#9020f0" stroke-width="1.3"/>
<rect x="494.40" y="50.30" width="3.6" height="3.6" fill="#9020f0"/>
<g transform="translate(505.30,54.50) scale(0.92,1)">
<text x="0.00" y="0.00" font-family='"Liberation Sans", sans-serif' font-size="6.6" font-weight="bold" font-style="italic" fill="#000" text-anchor="start" >Ni<tspan baseline-shift="-25%" font-size="5">2</tspan>P/NC-80</text>
</g>
<line x1="489.7" y1="61.00" x2="502.7" y2="61.00" stroke="#1414dc" stroke-width="1.3"/>
<rect x="494.40" y="59.20" width="3.6" height="3.6" fill="#1414dc"/>
<g transform="translate(505.30,63.40) scale(0.92,1)">
<text x="0.00" y="0.00" font-family='"Liberation Sans", sans-serif' font-size="6.6" font-weight="bold" font-style="italic" fill="#000" text-anchor="start" >NC</text>
</g>
<line x1="489.7" y1="69.20" x2="502.7" y2="69.20" stroke="#808014" stroke-width="1.3"/>
<rect x="494.40" y="67.40" width="3.6" height="3.6" fill="#808014"/>
<g transform="translate(505.30,71.60) scale(0.92,1)">
<text x="0.00" y="0.00" font-family='"Liberation Sans", sans-serif' font-size="6.6" font-weight="bold" font-style="italic" fill="#000" text-anchor="start" >Pt/C</text>
</g>
<text x="353.30" y="46.54" font-family='"Liberation Sans", sans-serif' font-size="7.6" font-weight="normal" font-style="italic" fill="#1414dc" text-anchor="start" textLength="48.3" lengthAdjust="spacingAndGlyphs">168.9 mV/dec<tspan baseline-shift="super" font-size="5">-1</tspan></text>
<text x="352.60" y="88.62" font-family='"Liberation Sans", sans-serif' font-size="8.4" font-weight="bold" font-style="italic" fill="#00a000" text-anchor="start" textLength="40.9" lengthAdjust="spacingAndGlyphs">135mV·dec<tspan baseline-shift="super" font-size="5.5">-1</tspan></text>
<text x="463.20" y="79.95" font-family='"Liberation Sans", sans-serif' font-size="8.2" font-weight="normal" font-style="italic" fill="#141414" text-anchor="start" textLength="49.1" lengthAdjust="spacingAndGlyphs">120.5 mV·dec<tspan baseline-shift="super" font-size="5.5">-1</tspan></text>
<text x="463.50" y="90.75" font-family='"Liberation Sans", sans-serif' font-size="8.2" font-weight="normal" font-style="italic" fill="#9020f0" text-anchor="start" textLength="45.4" lengthAdjust="spacingAndGlyphs">85.7 mV·dec<tspan baseline-shift="super" font-size="5.5">-1</tspan></text>
<text x="478.90" y="109.85" font-family='"Liberation Sans", sans-serif' font-size="8.2" font-weight="normal" font-style="italic" fill="#c08028" text-anchor="start" textLength="47.1" lengthAdjust="spacingAndGlyphs">99.3 mV·dec<tspan baseline-shift="super" font-size="5.5">-1</tspan></text>
<text x="397.00" y="138.45" font-family='"Liberation Sans", sans-serif' font-size="8.2" font-weight="normal" font-style="italic" fill="#ff1414" text-anchor="start" textLength="47.6" lengthAdjust="spacingAndGlyphs">67.3 mV·dec<tspan baseline-shift="super" font-size="5.5">-1</tspan></text>
<text x="472.00" y="161.94" font-family='"Liberation Sans", sans-serif' font-size="7.6" font-weight="normal" font-style="normal" fill="#808014" text-anchor="start" textLength="40.9" lengthAdjust="spacingAndGlyphs">36 mV·dec<tspan baseline-shift="super" font-size="5">-1</tspan></text>
<text x="369.00" y="212.60" font-family='"Liberation Sans", sans-serif' font-size="14.5" font-weight="bold" font-style="normal" fill="#000" text-anchor="start" >log</text>
<line x1="398" y1="202.5" x2="398" y2="216" stroke="#444" stroke-width="1.1"/>
<line x1="489.2" y1="202.5" x2="489.2" y2="216" stroke="#444" stroke-width="1.1"/>
<text x="404.00" y="212.60" font-family='"Liberation Sans", sans-serif' font-size="14.5" font-weight="bold" font-style="italic" fill="#000" text-anchor="start" >j</text>
<text x="411.60" y="212.60" font-family='"Liberation Sans", sans-serif' font-size="14.5" font-weight="bold" font-style="normal" fill="#000" text-anchor="start" textLength="69.5" lengthAdjust="spacingAndGlyphs">(mA cm<tspan baseline-shift="super" font-size="9.5">-2</tspan>)</text>
<g transform="translate(288.4,187.2) rotate(-90)">
<text x="0.00" y="0.00" font-family='"Liberation Sans", sans-serif' font-size="14.5" font-weight="bold" font-style="normal" fill="#000" text-anchor="start" textLength="177.6" lengthAdjust="spacingAndGlyphs">Overpotential (V <tspan font-style="italic">vs.</tspan> RHE)</text>
</g>
<rect x="46.8" y="226.4" width="219.0" height="175.9" fill="none" stroke="#000" stroke-width="1.8"/>
<line x1="58.32" y1="402.3" x2="58.32" y2="398.8" stroke="#111" stroke-width="1.3"/>
<line x1="81.38" y1="402.3" x2="81.38" y2="400.1" stroke="#111" stroke-width="1.3"/>
<line x1="104.42" y1="402.3" x2="104.42" y2="398.8" stroke="#111" stroke-width="1.3"/>
<line x1="127.47" y1="402.3" x2="127.47" y2="400.1" stroke="#111" stroke-width="1.3"/>
<line x1="150.53" y1="402.3" x2="150.53" y2="398.8" stroke="#111" stroke-width="1.3"/>
<line x1="173.57" y1="402.3" x2="173.57" y2="400.1" stroke="#111" stroke-width="1.3"/>
<line x1="196.62" y1="402.3" x2="196.62" y2="398.8" stroke="#111" stroke-width="1.3"/>
<line x1="219.68" y1="402.3" x2="219.68" y2="400.1" stroke="#111" stroke-width="1.3"/>
<line x1="242.73" y1="402.3" x2="242.73" y2="398.8" stroke="#111" stroke-width="1.3"/>
<line x1="46.8" y1="402.40" x2="49.0" y2="402.40" stroke="#111" stroke-width="1.3"/>
<line x1="46.8" y1="383.80" x2="50.3" y2="383.80" stroke="#111" stroke-width="1.3"/>
<line x1="46.8" y1="365.20" x2="49.0" y2="365.20" stroke="#111" stroke-width="1.3"/>
<line x1="46.8" y1="346.60" x2="50.3" y2="346.60" stroke="#111" stroke-width="1.3"/>
<line x1="46.8" y1="328.00" x2="49.0" y2="328.00" stroke="#111" stroke-width="1.3"/>
<line x1="46.8" y1="309.40" x2="50.3" y2="309.40" stroke="#111" stroke-width="1.3"/>
<line x1="46.8" y1="290.80" x2="49.0" y2="290.80" stroke="#111" stroke-width="1.3"/>
<line x1="46.8" y1="272.20" x2="50.3" y2="272.20" stroke="#111" stroke-width="1.3"/>
<line x1="46.8" y1="253.60" x2="49.0" y2="253.60" stroke="#111" stroke-width="1.3"/>
<line x1="46.8" y1="235.00" x2="50.3" y2="235.00" stroke="#111" stroke-width="1.3"/>
<text x="58.32" y="415.50" font-family='"Liberation Sans", sans-serif' font-size="11" font-weight="bold" font-style="normal" fill="#000" text-anchor="middle" >0</text>
<text x="104.42" y="415.50" font-family='"Liberation Sans", sans-serif' font-size="11" font-weight="bold" font-style="normal" fill="#000" text-anchor="middle" >200</text>
<text x="150.53" y="415.50" font-family='"Liberation Sans", sans-serif' font-size="11" font-weight="bold" font-style="normal" fill="#000" text-anchor="middle" >400</text>
<text x="196.62" y="415.50" font-family='"Liberation Sans", sans-serif' font-size="11" font-weight="bold" font-style="normal" fill="#000" text-anchor="middle" >600</text>
<text x="242.73" y="415.50" font-family='"Liberation Sans", sans-serif' font-size="11" font-weight="bold" font-style="normal" fill="#000" text-anchor="middle" >800</text>
<text x="42.40" y="387.10" font-family='"Liberation Sans", sans-serif' font-size="11" font-weight="bold" font-style="normal" fill="#000" text-anchor="end" >0</text>
<text x="42.40" y="349.90" font-family='"Liberation Sans", sans-serif' font-size="11" font-weight="bold" font-style="normal" fill="#000" text-anchor="end" >400</text>
<text x="42.40" y="312.70" font-family='"Liberation Sans", sans-serif' font-size="11" font-weight="bold" font-style="normal" fill="#000" text-anchor="end" >800</text>
<text x="42.40" y="275.50" font-family='"Liberation Sans", sans-serif' font-size="11" font-weight="bold" font-style="normal" fill="#000" text-anchor="end" >1200</text>
<text x="42.40" y="238.30" font-family='"Liberation Sans", sans-serif' font-size="11" font-weight="bold" font-style="normal" fill="#000" text-anchor="end" >1600</text>
<text x="54.00" y="244.30" font-family='"Liberation Serif", serif' font-size="20" font-weight="bold" font-style="normal" fill="#000" text-anchor="start" >(c)</text>
<g clip-path="none">
<path d="M119.70,239.10 L110.60,257.10 L102.70,271.80 L96.80,285.60 L91.80,297.50 L86.70,308.30 L83.20,318.00 L79.80,326.00 L76.80,333.60 L74.50,340.00 L72.50,345.50 L70.60,350.80 L68.80,356.50 L67.20,361.50 L65.80,366.00 L64.50,370.00 L63.40,373.50 L62.40,376.50 L61.60,379.00 L60.90,381.00 L60.30,382.60" fill="none" stroke="#33bb33" stroke-width="0.9" stroke-linejoin="round" stroke-linecap="butt" />
<rect x="117.90" y="237.30" width="3.6" height="3.6" fill="#00a000"/>
<rect x="108.80" y="255.30" width="3.6" height="3.6" fill="#00a000"/>
<rect x="100.90" y="270.00" width="3.6" height="3.6" fill="#00a000"/>
<rect x="95.00" y="283.80" width="3.6" height="3.6" fill="#00a000"/>
<rect x="90.00" y="295.70" width="3.6" height="3.6" fill="#00a000"/>
<rect x="84.90" y="306.50" width="3.6" height="3.6" fill="#00a000"/>
<rect x="81.40" y="316.20" width="3.6" height="3.6" fill="#00a000"/>
<rect x="78.00" y="324.20" width="3.6" height="3.6" fill="#00a000"/>
<rect x="75.00" y="331.80" width="3.6" height="3.6" fill="#00a000"/>
<rect x="72.70" y="338.20" width="3.6" height="3.6" fill="#00a000"/>
<rect x="70.70" y="343.70" width="3.6" height="3.6" fill="#00a000"/>
<rect x="68.80" y="349.00" width="3.6" height="3.6" fill="#00a000"/>
<rect x="67.00" y="354.70" width="3.6" height="3.6" fill="#00a000"/>
<rect x="65.40" y="359.70" width="3.6" height="3.6" fill="#00a000"/>
<rect x="64.00" y="364.20" width="3.6" height="3.6" fill="#00a000"/>
<rect x="62.70" y="368.20" width="3.6" height="3.6" fill="#00a000"/>
<rect x="61.60" y="371.70" width="3.6" height="3.6" fill="#00a000"/>
<rect x="60.60" y="374.70" width="3.6" height="3.6" fill="#00a000"/>
<rect x="59.80" y="377.20" width="3.6" height="3.6" fill="#00a000"/>
<rect x="59.10" y="379.20" width="3.6" height="3.6" fill="#00a000"/>
<rect x="58.50" y="380.80" width="3.6" height="3.6" fill="#00a000"/>
<path d="M62.00,373.00 L63.80,371.24 L65.60,369.48 L67.40,367.72 L69.20,365.96 L71.79,363.88 L72.56,362.56 L73.50,361.09 L74.64,359.46 L75.99,357.71 L77.59,355.87 L79.44,353.96 L81.57,352.03 L83.98,350.12 L86.67,348.28 L89.66,346.54 L92.92,344.96 L96.43,343.59 L100.18,342.48 L104.12,341.65 L108.21,341.15 L112.41,341.00 L116.65,341.22 L120.88,341.83 L125.04,342.80 L129.07,344.14 L132.93,345.82 L136.56,347.80 L139.93,350.06 L143.00,352.53 L145.76,355.17 L148.19,357.94 L150.29,360.77 L152.07,363.63 L153.54,366.45 L154.72,369.21 L155.65,371.85 L156.34,374.35 L156.84,376.69 L157.17,378.83 L157.37,380.77 L157.47,382.50 L157.50,384.00" fill="none" stroke="#222" stroke-width="1.2" stroke-linejoin="round" stroke-linecap="butt" />
<circle cx="62.00" cy="373.00" r="2.1" fill="#000"/>
<circle cx="63.80" cy="371.24" r="2.1" fill="#000"/>
<circle cx="65.60" cy="369.48" r="2.1" fill="#000"/>
<circle cx="67.40" cy="367.72" r="2.1" fill="#000"/>
<circle cx="69.20" cy="365.96" r="2.1" fill="#000"/>
<circle cx="71.79" cy="363.88" r="2.1" fill="#000"/>
<circle cx="72.56" cy="362.56" r="2.1" fill="#000"/>
<circle cx="73.50" cy="361.09" r="2.1" fill="#000"/>
<circle cx="74.64" cy="359.46" r="2.1" fill="#000"/>
<circle cx="75.99" cy="357.71" r="2.1" fill="#000"/>
<circle cx="77.59" cy="355.87" r="2.1" fill="#000"/>
<circle cx="79.44" cy="353.96" r="2.1" fill="#000"/>
<circle cx="81.57" cy="352.03" r="2.1" fill="#000"/>
<circle cx="83.98" cy="350.12" r="2.1" fill="#000"/>
<circle cx="86.67" cy="348.28" r="2.1" fill="#000"/>
<circle cx="89.66" cy="346.54" r="2.1" fill="#000"/>
<circle cx="92.92" cy="344.96" r="2.1" fill="#000"/>
<circle cx="96.43" cy="343.59" r="2.1" fill="#000"/>
<circle cx="100.18" cy="342.48" r="2.1" fill="#000"/>
<circle cx="104.12" cy="341.65" r="2.1" fill="#000"/>
<circle cx="108.21" cy="341.15" r="2.1" fill="#000"/>
<circle cx="112.41" cy="341.00" r="2.1" fill="#000"/>
<circle cx="116.65" cy="341.22" r="2.1" fill="#000"/>
<circle cx="120.88" cy="341.83" r="2.1" fill="#000"/>
<circle cx="125.04" cy="342.80" r="2.1" fill="#000"/>
<circle cx="129.07" cy="344.14" r="2.1" fill="#000"/>
<circle cx="132.93" cy="345.82" r="2.1" fill="#000"/>
<circle cx="136.56" cy="347.80" r="2.1" fill="#000"/>
<circle cx="139.93" cy="350.06" r="2.1" fill="#000"/>
<circle cx="143.00" cy="352.53" r="2.1" fill="#000"/>
<circle cx="145.76" cy="355.17" r="2.1" fill="#000"/>
<circle cx="148.19" cy="357.94" r="2.1" fill="#000"/>
<circle cx="150.29" cy="360.77" r="2.1" fill="#000"/>
<circle cx="152.07" cy="363.63" r="2.1" fill="#000"/>
<circle cx="153.54" cy="366.45" r="2.1" fill="#000"/>
<circle cx="154.72" cy="369.21" r="2.1" fill="#000"/>
<circle cx="155.65" cy="371.85" r="2.1" fill="#000"/>
<circle cx="156.34" cy="374.35" r="2.1" fill="#000"/>
<circle cx="156.84" cy="376.69" r="2.1" fill="#000"/>
<circle cx="157.17" cy="378.83" r="2.1" fill="#000"/>
<circle cx="157.37" cy="380.77" r="2.1" fill="#000"/>
<circle cx="157.47" cy="382.50" r="2.1" fill="#000"/>
<circle cx="157.50" cy="384.00" r="2.1" fill="#000"/>
<path d="M63.20,381.00 L66.05,385.80 L60.35,385.80Z" fill="#c08028"/>
<path d="M63.27,379.38 L66.12,384.18 L60.42,384.18Z" fill="#c08028"/>
<path d="M63.49,377.78 L66.34,382.58 L60.64,382.58Z" fill="#c08028"/>
<path d="M63.84,376.21 L66.69,381.01 L60.99,381.01Z" fill="#c08028"/>
<path d="M64.33,374.68 L67.18,379.48 L61.48,379.48Z" fill="#c08028"/>
<path d="M64.96,373.21 L67.81,378.01 L62.11,378.01Z" fill="#c08028"/>
<path d="M65.71,371.81 L68.56,376.61 L62.86,376.61Z" fill="#c08028"/>
<path d="M66.58,370.49 L69.43,375.29 L63.73,375.29Z" fill="#c08028"/>
<path d="M67.57,369.27 L70.42,374.07 L64.72,374.07Z" fill="#c08028"/>
<path d="M68.65,368.15 L71.50,372.95 L65.80,372.95Z" fill="#c08028"/>
<path d="M69.84,367.15 L72.69,371.95 L66.99,371.95Z" fill="#c08028"/>
<path d="M71.10,366.28 L73.95,371.08 L68.25,371.08Z" fill="#c08028"/>
<path d="M72.44,365.54 L75.29,370.34 L69.59,370.34Z" fill="#c08028"/>
<path d="M73.83,364.93 L76.68,369.73 L70.98,369.73Z" fill="#c08028"/>
<path d="M75.28,364.48 L78.13,369.28 L72.43,369.28Z" fill="#c08028"/>
<path d="M76.75,364.17 L79.60,368.97 L73.90,368.97Z" fill="#c08028"/>
<path d="M78.25,364.02 L81.10,368.82 L75.40,368.82Z" fill="#c08028"/>
<path d="M79.75,364.02 L82.60,368.82 L76.90,368.82Z" fill="#c08028"/>
<path d="M81.25,364.17 L84.10,368.97 L78.40,368.97Z" fill="#c08028"/>
<path d="M82.72,364.48 L85.57,369.28 L79.87,369.28Z" fill="#c08028"/>
<path d="M84.17,364.93 L87.02,369.73 L81.32,369.73Z" fill="#c08028"/>
<path d="M85.56,365.54 L88.41,370.34 L82.71,370.34Z" fill="#c08028"/>
<path d="M86.90,366.28 L89.75,371.08 L84.05,371.08Z" fill="#c08028"/>
<path d="M88.16,367.15 L91.01,371.95 L85.31,371.95Z" fill="#c08028"/>
<path d="M89.35,368.15 L92.20,372.95 L86.50,372.95Z" fill="#c08028"/>
<path d="M90.43,369.27 L93.28,374.07 L87.58,374.07Z" fill="#c08028"/>
<path d="M91.42,370.49 L94.27,375.29 L88.57,375.29Z" fill="#c08028"/>
<path d="M92.29,371.81 L95.14,376.61 L89.44,376.61Z" fill="#c08028"/>
<path d="M93.04,373.21 L95.89,378.01 L90.19,378.01Z" fill="#c08028"/>
<path d="M93.67,374.68 L96.52,379.48 L90.82,379.48Z" fill="#c08028"/>
<path d="M94.16,376.21 L97.01,381.01 L91.31,381.01Z" fill="#c08028"/>
<path d="M94.51,377.78 L97.36,382.58 L91.66,382.58Z" fill="#c08028"/>
<path d="M94.73,379.38 L97.58,384.18 L91.88,384.18Z" fill="#c08028"/>
<path d="M94.80,381.00 L97.65,385.80 L91.95,385.80Z" fill="#c08028"/>
<path d="M59.50,381.40 L62.10,384.00 L59.50,386.60 L56.90,384.00Z" fill="#9020f0"/>
<path d="M59.57,380.32 L62.17,382.92 L59.57,385.52 L56.97,382.92Z" fill="#9020f0"/>
<path d="M59.77,379.25 L62.37,381.85 L59.77,384.45 L57.17,381.85Z" fill="#9020f0"/>
<path d="M60.10,378.21 L62.70,380.81 L60.10,383.41 L57.50,380.81Z" fill="#9020f0"/>
<path d="M60.56,377.20 L63.16,379.80 L60.56,382.40 L57.96,379.80Z" fill="#9020f0"/>
<path d="M61.15,376.24 L63.75,378.84 L61.15,381.44 L58.55,378.84Z" fill="#9020f0"/>
<path d="M61.84,375.35 L64.44,377.95 L61.84,380.55 L59.24,377.95Z" fill="#9020f0"/>
<path d="M62.65,374.52 L65.25,377.12 L62.65,379.72 L60.05,377.12Z" fill="#9020f0"/>
<path d="M63.56,373.78 L66.16,376.38 L63.56,378.98 L60.96,376.38Z" fill="#9020f0"/>
<path d="M64.55,373.12 L67.15,375.72 L64.55,378.32 L61.95,375.72Z" fill="#9020f0"/>
<path d="M65.61,372.56 L68.21,375.16 L65.61,377.76 L63.01,375.16Z" fill="#9020f0"/>
<path d="M66.74,372.11 L69.34,374.71 L66.74,377.31 L64.14,374.71Z" fill="#9020f0"/>
<path d="M67.92,371.76 L70.52,374.36 L67.92,376.96 L65.32,374.36Z" fill="#9020f0"/>
<path d="M69.14,371.53 L71.74,374.13 L69.14,376.73 L66.54,374.13Z" fill="#9020f0"/>
<path d="M70.38,371.41 L72.98,374.01 L70.38,376.61 L67.78,374.01Z" fill="#9020f0"/>
<path d="M71.62,371.41 L74.22,374.01 L71.62,376.61 L69.02,374.01Z" fill="#9020f0"/>
<path d="M72.86,371.53 L75.46,374.13 L72.86,376.73 L70.26,374.13Z" fill="#9020f0"/>
<path d="M74.08,371.76 L76.68,374.36 L74.08,376.96 L71.48,374.36Z" fill="#9020f0"/>
<path d="M75.26,372.11 L77.86,374.71 L75.26,377.31 L72.66,374.71Z" fill="#9020f0"/>
<path d="M76.39,372.56 L78.99,375.16 L76.39,377.76 L73.79,375.16Z" fill="#9020f0"/>
<path d="M77.45,373.12 L80.05,375.72 L77.45,378.32 L74.85,375.72Z" fill="#9020f0"/>
<path d="M78.44,373.78 L81.04,376.38 L78.44,378.98 L75.84,376.38Z" fill="#9020f0"/>
<path d="M79.35,374.52 L81.95,377.12 L79.35,379.72 L76.75,377.12Z" fill="#9020f0"/>
<path d="M80.16,375.35 L82.76,377.95 L80.16,380.55 L77.56,377.95Z" fill="#9020f0"/>
<path d="M80.85,376.24 L83.45,378.84 L80.85,381.44 L78.25,378.84Z" fill="#9020f0"/>
<path d="M81.44,377.20 L84.04,379.80 L81.44,382.40 L78.84,379.80Z" fill="#9020f0"/>
<path d="M81.90,378.21 L84.50,380.81 L81.90,383.41 L79.30,380.81Z" fill="#9020f0"/>
<path d="M82.23,379.25 L84.83,381.85 L82.23,384.45 L79.63,381.85Z" fill="#9020f0"/>
<path d="M82.43,380.32 L85.03,382.92 L82.43,385.52 L79.83,382.92Z" fill="#9020f0"/>
<path d="M82.50,381.40 L85.10,384.00 L82.50,386.60 L79.90,384.00Z" fill="#9020f0"/>
<path d="M61.00,386.80 L63.66,382.32 L58.34,382.32Z" fill="#ff1414"/>
<path d="M61.06,385.79 L63.72,381.31 L58.40,381.31Z" fill="#ff1414"/>
<path d="M61.22,384.78 L63.88,380.30 L58.56,380.30Z" fill="#ff1414"/>
<path d="M61.50,383.79 L64.16,379.31 L58.84,379.31Z" fill="#ff1414"/>
<path d="M61.88,382.83 L64.54,378.35 L59.22,378.35Z" fill="#ff1414"/>
<path d="M62.36,381.90 L65.02,377.42 L59.70,377.42Z" fill="#ff1414"/>
<path d="M62.95,381.01 L65.61,376.53 L60.29,376.53Z" fill="#ff1414"/>
<path d="M63.63,380.17 L66.29,375.69 L60.97,375.69Z" fill="#ff1414"/>
<path d="M64.39,379.39 L67.05,374.91 L61.73,374.91Z" fill="#ff1414"/>
<path d="M65.24,378.67 L67.90,374.19 L62.58,374.19Z" fill="#ff1414"/>
<path d="M66.17,378.02 L68.83,373.54 L63.51,373.54Z" fill="#ff1414"/>
<path d="M67.16,377.45 L69.82,372.97 L64.50,372.97Z" fill="#ff1414"/>
<path d="M68.21,376.95 L70.87,372.47 L65.55,372.47Z" fill="#ff1414"/>
<path d="M69.30,376.54 L71.96,372.06 L66.64,372.06Z" fill="#ff1414"/>
<path d="M70.44,376.22 L73.10,371.74 L67.78,371.74Z" fill="#ff1414"/>
<path d="M71.61,375.99 L74.27,371.51 L68.95,371.51Z" fill="#ff1414"/>
<path d="M72.80,375.85 L75.46,371.37 L70.14,371.37Z" fill="#ff1414"/>
<path d="M74.00,375.80 L76.66,371.32 L71.34,371.32Z" fill="#ff1414"/>
<path d="M75.20,375.85 L77.86,371.37 L72.54,371.37Z" fill="#ff1414"/>
<path d="M76.39,375.99 L79.05,371.51 L73.73,371.51Z" fill="#ff1414"/>
<path d="M77.56,376.22 L80.22,371.74 L74.90,371.74Z" fill="#ff1414"/>
<path d="M78.70,376.54 L81.36,372.06 L76.04,372.06Z" fill="#ff1414"/>
<path d="M79.79,376.95 L82.45,372.47 L77.13,372.47Z" fill="#ff1414"/>
<path d="M80.84,377.45 L83.50,372.97 L78.18,372.97Z" fill="#ff1414"/>
<path d="M81.83,378.02 L84.49,373.54 L79.17,373.54Z" fill="#ff1414"/>
<path d="M82.76,378.67 L85.42,374.19 L80.10,374.19Z" fill="#ff1414"/>
<path d="M83.61,379.39 L86.27,374.91 L80.95,374.91Z" fill="#ff1414"/>
<path d="M84.37,380.17 L87.03,375.69 L81.71,375.69Z" fill="#ff1414"/>
<path d="M85.05,381.01 L87.71,376.53 L82.39,376.53Z" fill="#ff1414"/>
<path d="M85.64,381.90 L88.30,377.42 L82.98,377.42Z" fill="#ff1414"/>
<path d="M86.12,382.83 L88.78,378.35 L83.46,378.35Z" fill="#ff1414"/>
<path d="M86.50,383.79 L89.16,379.31 L83.84,379.31Z" fill="#ff1414"/>
<path d="M86.78,384.78 L89.44,380.30 L84.12,380.30Z" fill="#ff1414"/>
<path d="M86.94,385.79 L89.60,381.31 L84.28,381.31Z" fill="#ff1414"/>
<path d="M87.00,386.80 L89.66,382.32 L84.34,382.32Z" fill="#ff1414"/>
<path d="M56.20,384.00 L60.68,381.34 L60.68,386.66Z" fill="#1414dc"/>
<path d="M56.25,383.03 L60.73,380.37 L60.73,385.69Z" fill="#1414dc"/>
<path d="M56.40,382.07 L60.88,379.41 L60.88,384.73Z" fill="#1414dc"/>
<path d="M56.66,381.13 L61.14,378.47 L61.14,383.79Z" fill="#1414dc"/>
<path d="M57.01,380.21 L61.49,377.55 L61.49,382.87Z" fill="#1414dc"/>
<path d="M57.46,379.32 L61.94,376.66 L61.94,381.98Z" fill="#1414dc"/>
<path d="M58.00,378.47 L62.48,375.81 L62.48,381.13Z" fill="#1414dc"/>
<path d="M58.62,377.67 L63.10,375.01 L63.10,380.33Z" fill="#1414dc"/>
<path d="M59.33,376.93 L63.81,374.27 L63.81,379.59Z" fill="#1414dc"/>
<path d="M60.12,376.24 L64.60,373.58 L64.60,378.90Z" fill="#1414dc"/>
<path d="M60.97,375.62 L65.45,372.96 L65.45,378.28Z" fill="#1414dc"/>
<path d="M61.88,375.07 L66.36,372.41 L66.36,377.73Z" fill="#1414dc"/>
<path d="M62.85,374.60 L67.33,371.94 L67.33,377.26Z" fill="#1414dc"/>
<path d="M63.87,374.21 L68.35,371.55 L68.35,376.87Z" fill="#1414dc"/>
<path d="M64.92,373.90 L69.40,371.24 L69.40,376.56Z" fill="#1414dc"/>
<path d="M66.00,373.68 L70.48,371.02 L70.48,376.34Z" fill="#1414dc"/>
<path d="M67.09,373.54 L71.57,370.88 L71.57,376.20Z" fill="#1414dc"/>
<path d="M68.20,373.50 L72.68,370.84 L72.68,376.16Z" fill="#1414dc"/>
<path d="M69.31,373.54 L73.79,370.88 L73.79,376.20Z" fill="#1414dc"/>
<path d="M70.40,373.68 L74.88,371.02 L74.88,376.34Z" fill="#1414dc"/>
<path d="M71.48,373.90 L75.96,371.24 L75.96,376.56Z" fill="#1414dc"/>
<path d="M72.53,374.21 L77.01,371.55 L77.01,376.87Z" fill="#1414dc"/>
<path d="M73.55,374.60 L78.03,371.94 L78.03,377.26Z" fill="#1414dc"/>
<path d="M74.52,375.07 L79.00,372.41 L79.00,377.73Z" fill="#1414dc"/>
<path d="M75.43,375.62 L79.91,372.96 L79.91,378.28Z" fill="#1414dc"/>
<path d="M76.28,376.24 L80.76,373.58 L80.76,378.90Z" fill="#1414dc"/>
<path d="M77.07,376.93 L81.55,374.27 L81.55,379.59Z" fill="#1414dc"/>
<path d="M77.78,377.67 L82.26,375.01 L82.26,380.33Z" fill="#1414dc"/>
<path d="M78.40,378.47 L82.88,375.81 L82.88,381.13Z" fill="#1414dc"/>
<path d="M78.94,379.32 L83.42,376.66 L83.42,381.98Z" fill="#1414dc"/>
<path d="M79.39,380.21 L83.87,377.55 L83.87,382.87Z" fill="#1414dc"/>
<path d="M79.74,381.13 L84.22,378.47 L84.22,383.79Z" fill="#1414dc"/>
<path d="M80.00,382.07 L84.48,379.41 L84.48,384.73Z" fill="#1414dc"/>
<path d="M80.15,383.03 L84.63,380.37 L84.63,385.69Z" fill="#1414dc"/>
<path d="M80.20,384.00 L84.68,381.34 L84.68,386.66Z" fill="#1414dc"/>
</g>
<line x1="183.2" y1="244.60" x2="201.2" y2="244.60" stroke="#33bb33" stroke-width="0.9"/>
<rect x="190.60" y="242.80" width="3.6" height="3.6" fill="#00a000"/>
<g transform="translate(204.70,247.80) scale(0.93,1)">
<text x="0.00" y="0.00" font-family='"Liberation Sans", sans-serif' font-size="8.8" font-weight="bold" font-style="italic" fill="#000" text-anchor="start" >Ni<tspan baseline-shift="-25%" font-size="6">2</tspan>P</text>
</g>
<line x1="183.2" y1="256.90" x2="201.2" y2="256.90" stroke="#555" stroke-width="0.9"/>
<circle cx="192.4" cy="256.90" r="2" fill="#000"/>
<g transform="translate(204.70,260.10) scale(0.93,1)">
<text x="0.00" y="0.00" font-family='"Liberation Sans", sans-serif' font-size="8.8" font-weight="bold" font-style="italic" fill="#000" text-anchor="start" >Ni<tspan baseline-shift="-25%" font-size="6">2</tspan>P/NC-20</text>
</g>
<line x1="183.2" y1="269.20" x2="201.2" y2="269.20" stroke="#d9b080" stroke-width="0.9"/>
<path d="M192.40,266.60 L194.87,270.76 L189.93,270.76Z" fill="#c08028"/>
<g transform="translate(204.70,272.40) scale(0.93,1)">
<text x="0.00" y="0.00" font-family='"Liberation Sans", sans-serif' font-size="8.8" font-weight="bold" font-style="italic" fill="#000" text-anchor="start" >Ni<tspan baseline-shift="-25%" font-size="6">2</tspan>P/NC-40</text>
</g>
<line x1="183.2" y1="281.50" x2="201.2" y2="281.50" stroke="#ff6060" stroke-width="0.9"/>
<path d="M192.40,284.10 L194.87,279.94 L189.93,279.94Z" fill="#ff1414"/>
<g transform="translate(204.70,284.70) scale(0.93,1)">
<text x="0.00" y="0.00" font-family='"Liberation Sans", sans-serif' font-size="8.8" font-weight="bold" font-style="italic" fill="#000" text-anchor="start" >Ni<tspan baseline-shift="-25%" font-size="6">2</tspan>P/NC-60</text>
</g>
<line x1="183.2" y1="293.80" x2="201.2" y2="293.80" stroke="#b070f0" stroke-width="0.9"/>
<path d="M192.40,291.40 L194.80,293.80 L192.40,296.20 L190.00,293.80Z" fill="#9020f0"/>
<g transform="translate(204.70,297.00) scale(0.93,1)">
<text x="0.00" y="0.00" font-family='"Liberation Sans", sans-serif' font-size="8.8" font-weight="bold" font-style="italic" fill="#000" text-anchor="start" >Ni<tspan baseline-shift="-25%" font-size="6">2</tspan>P/NC-80</text>
</g>
<line x1="183.2" y1="306.10" x2="201.2" y2="306.10" stroke="#5050e0" stroke-width="0.9"/>
<path d="M189.80,306.10 L193.96,303.63 L193.96,308.57Z" fill="#1414dc"/>
<g transform="translate(204.70,309.30) scale(0.93,1)">
<text x="0.00" y="0.00" font-family='"Liberation Sans", sans-serif' font-size="8.8" font-weight="bold" font-style="italic" fill="#000" text-anchor="start" >NC</text>
</g>
<g stroke="#111" stroke-width="1.5" fill="none" stroke-linejoin="miter">
<path d="M164.5,347.6 L174.4,347.6 L175.9,343.2 L179.7,352.6 L183.9,343.2 L187.7,352.6 L189.9,347.6 L195,347.6"/>
<path d="M194.9,331 L194.9,362.7 L212.8,362.7 L214.8,357.8 L218.5,367.2 L222.2,357.8 L226.3,367.2 L228.7,362.7 L244.3,362.7 L244.3,331 L229,331 M213,331 L194.9,331"/>
<path d="M244.3,347.6 L258,347.6"/>
</g>
<rect x="213" y="326.6" width="16" height="10.8" fill="#c8c8c8" stroke="#111" stroke-width="1.3"/>
<text x="221.00" y="335.50" font-family='"Liberation Sans", sans-serif' font-size="10" font-weight="bold" font-style="normal" fill="#000" text-anchor="middle" >Q</text>
<text x="176.20" y="362.70" font-family='"Liberation Sans", sans-serif' font-size="8.6" font-weight="bold" font-style="normal" fill="#000" text-anchor="start" >R<tspan baseline-shift="-25%" font-size="6">s</tspan></text>
<text x="214.00" y="377.00" font-family='"Liberation Sans", sans-serif' font-size="8.6" font-weight="bold" font-style="normal" fill="#000" text-anchor="start" >R<tspan baseline-shift="-25%" font-size="6">ct</tspan></text>
<text x="137.30" y="429.00" font-family='"Liberation Sans", sans-serif' font-size="14.5" font-weight="bold" font-style="normal" fill="#000" text-anchor="start" textLength="37.6" lengthAdjust="spacingAndGlyphs">Z' (Ω)</text>
<g transform="translate(15.6,338) rotate(-90)">
<text x="0.00" y="0.00" font-family='"Liberation Sans", sans-serif' font-size="14.5" font-weight="bold" font-style="normal" fill="#000" text-anchor="start" textLength="48" lengthAdjust="spacingAndGlyphs">-Z'' (Ω)</text>
</g>
<rect x="323.2" y="226.8" width="219.00000000000006" height="175.7" fill="none" stroke="#000" stroke-width="1.8"/>
<line x1="347.53" y1="402.5" x2="347.53" y2="400.3" stroke="#111" stroke-width="1.3"/>
<line x1="371.87" y1="402.5" x2="371.87" y2="399.0" stroke="#111" stroke-width="1.3"/>
<line x1="396.20" y1="402.5" x2="396.20" y2="400.3" stroke="#111" stroke-width="1.3"/>
<line x1="420.54" y1="402.5" x2="420.54" y2="399.0" stroke="#111" stroke-width="1.3"/>
<line x1="444.88" y1="402.5" x2="444.88" y2="400.3" stroke="#111" stroke-width="1.3"/>
<line x1="469.21" y1="402.5" x2="469.21" y2="399.0" stroke="#111" stroke-width="1.3"/>
<line x1="493.54" y1="402.5" x2="493.54" y2="400.3" stroke="#111" stroke-width="1.3"/>
<line x1="517.88" y1="402.5" x2="517.88" y2="399.0" stroke="#111" stroke-width="1.3"/>
<line x1="323.2" y1="389.00" x2="325.4" y2="389.00" stroke="#111" stroke-width="1.3"/>
<line x1="323.2" y1="375.50" x2="326.7" y2="375.50" stroke="#111" stroke-width="1.3"/>
<line x1="323.2" y1="362.00" x2="325.4" y2="362.00" stroke="#111" stroke-width="1.3"/>
<line x1="323.2" y1="348.50" x2="326.7" y2="348.50" stroke="#111" stroke-width="1.3"/>
<line x1="323.2" y1="335.00" x2="325.4" y2="335.00" stroke="#111" stroke-width="1.3"/>
<line x1="323.2" y1="321.50" x2="326.7" y2="321.50" stroke="#111" stroke-width="1.3"/>
<line x1="323.2" y1="308.00" x2="325.4" y2="308.00" stroke="#111" stroke-width="1.3"/>
<line x1="323.2" y1="294.50" x2="326.7" y2="294.50" stroke="#111" stroke-width="1.3"/>
<line x1="323.2" y1="281.00" x2="325.4" y2="281.00" stroke="#111" stroke-width="1.3"/>
<line x1="323.2" y1="267.50" x2="326.7" y2="267.50" stroke="#111" stroke-width="1.3"/>
<line x1="323.2" y1="254.00" x2="325.4" y2="254.00" stroke="#111" stroke-width="1.3"/>
<line x1="323.2" y1="240.50" x2="326.7" y2="240.50" stroke="#111" stroke-width="1.3"/>
<text x="323.20" y="416.20" font-family='"Liberation Sans", sans-serif' font-size="11" font-weight="bold" font-style="normal" fill="#000" text-anchor="middle" >-0.4</text>
<text x="371.87" y="416.20" font-family='"Liberation Sans", sans-serif' font-size="11" font-weight="bold" font-style="normal" fill="#000" text-anchor="middle" >-0.3</text>
<text x="420.54" y="416.20" font-family='"Liberation Sans", sans-serif' font-size="11" font-weight="bold" font-style="normal" fill="#000" text-anchor="middle" >-0.2</text>
<text x="469.21" y="416.20" font-family='"Liberation Sans", sans-serif' font-size="11" font-weight="bold" font-style="normal" fill="#000" text-anchor="middle" >-0.1</text>
<text x="517.88" y="416.20" font-family='"Liberation Sans", sans-serif' font-size="11" font-weight="bold" font-style="normal" fill="#000" text-anchor="middle" >0.0</text>
<text x="319.00" y="244.50" font-family='"Liberation Sans", sans-serif' font-size="11" font-weight="bold" font-style="normal" fill="#000" text-anchor="end" >0</text>
<text x="319.00" y="271.50" font-family='"Liberation Sans", sans-serif' font-size="11" font-weight="bold" font-style="normal" fill="#000" text-anchor="end" >-10</text>
<text x="319.00" y="298.50" font-family='"Liberation Sans", sans-serif' font-size="11" font-weight="bold" font-style="normal" fill="#000" text-anchor="end" >-20</text>
<text x="319.00" y="325.50" font-family='"Liberation Sans", sans-serif' font-size="11" font-weight="bold" font-style="normal" fill="#000" text-anchor="end" >-30</text>
<text x="319.00" y="352.50" font-family='"Liberation Sans", sans-serif' font-size="11" font-weight="bold" font-style="normal" fill="#000" text-anchor="end" >-40</text>
<text x="319.00" y="379.50" font-family='"Liberation Sans", sans-serif' font-size="11" font-weight="bold" font-style="normal" fill="#000" text-anchor="end" >-50</text>
<text x="319.00" y="406.50" font-family='"Liberation Sans", sans-serif' font-size="11" font-weight="bold" font-style="normal" fill="#000" text-anchor="end" >-60</text>
<text x="330.50" y="246.00" font-family='"Liberation Serif", serif' font-size="20" font-weight="bold" font-style="normal" fill="#000" text-anchor="start" >(d)</text>
<rect x="460.6" y="322.8" width="77.0" height="66.0" fill="#fff" stroke="#222" stroke-width="0.8"/>
<clipPath id="cd"><rect x="324" y="227.6" width="217.4" height="174.1"/></clipPath>
<g clip-path="url(#cd)">
<path d="M427.12,405.60 L428.46,398.97 L429.76,392.61 L431.03,386.51 L432.25,380.66 L433.44,375.05 L434.60,369.68 L435.72,364.52 L436.81,359.57 L437.87,354.83 L438.90,350.28 L439.91,345.91 L440.89,341.73 L441.84,337.72 L442.76,333.87 L443.67,330.18 L444.55,326.64 L445.41,323.25 L446.25,319.99 L447.07,316.87 L447.86,313.88 L448.65,311.01 L449.41,308.25 L450.16,305.61 L450.89,303.08 L451.60,300.65 L452.30,298.33 L452.99,296.09 L453.66,293.95 L454.32,291.90 L454.97,289.93 L455.60,288.04 L456.22,286.23 L456.84,284.49 L457.44,282.83 L458.03,281.23 L458.61,279.70 L459.18,278.23 L459.74,276.82 L460.30,275.47 L460.84,274.17 L461.38,272.93 L461.91,271.74 L462.44,270.59 L462.95,269.50 L463.46,268.45 L463.96,267.44 L464.46,266.47 L464.95,265.54 L465.44,264.66 L465.92,263.80 L466.39,262.99 L466.86,262.20 L467.33,261.45 L467.79,260.73 L468.24,260.04 L468.69,259.37 L469.14,258.74 L469.59,258.13 L470.03,257.54 L470.46,256.98 L470.89,256.44 L471.32,255.93 L471.75,255.43 L472.17,254.96 L472.59,254.50 L473.01,254.07 L473.43,253.65 L473.84,253.25 L474.25,252.86 L474.66,252.49 L475.06,252.14 L475.47,251.80 L475.87,251.48 L476.27,251.16 L476.66,250.86 L477.06,250.58 L477.45,250.30 L477.84,250.04 L478.23,249.78 L478.62,249.54 L479.01,249.31 L479.40,249.09 L479.78,248.87 L480.16,248.67 L480.55,248.47 L480.93,248.28 L481.31,248.11 L481.69,247.93 L482.06,247.77 L482.44,247.61 L482.81,247.46 L483.19,247.32 L483.56,247.18 L483.94,247.05 L484.31,246.92 L484.68,246.80 L485.05,246.69 L485.42,246.58 L485.79,246.47 L486.16,246.37 L486.52,246.28 L486.89,246.19 L487.26,246.11 L487.62,246.02 L487.99,245.95 L488.35,245.87 L488.72,245.80 L489.08,245.74 L489.44,245.67 L489.81,245.61 L490.17,245.56 L490.53,245.50 L490.89,245.45 L491.25,245.40 L491.61,245.36 L491.98,245.31 L492.34,245.27 L492.70,245.23 L493.06,245.19 L493.41,245.16 L493.77,245.12 L494.13,245.09 L494.49,245.06 L494.85,245.03 L495.21,245.00 L495.57,244.98 L495.92,244.95 L496.28,244.92 L496.64,244.90 L496.99,244.88 L497.35,244.86 L497.71,244.84 L498.06,244.82 L498.42,244.80 L498.78,244.78 L499.13,244.76 L499.49,244.75 L499.84,244.73 L500.20,244.71 L500.56,244.70 L500.91,244.68 L501.27,244.67 L501.62,244.66 L501.98,244.64 L502.33,244.63 L502.69,244.62 L503.04,244.61 L503.40,244.60 L503.75,244.59 L504.10,244.57 L504.46,244.56 L504.81,244.55 L505.17,244.54 L505.52,244.54 L505.88,244.53 L506.23,244.52 L506.58,244.51 L506.94,244.50 L507.29,244.49 L507.65,244.48 L508.00,244.48 L508.35,244.47 L508.71,244.46 L509.06,244.45 L509.41,244.45 L509.77,244.44 L510.12,244.43 L510.47,244.43 L510.83,244.42 L511.18,244.41 L511.53,244.41 L511.89,244.40 L512.24,244.40 L512.59,244.39 L512.95,244.39 L513.30,244.38 L513.65,244.37 L514.01,244.37 L514.36,244.36 L514.71,244.36 L515.07,244.35 L515.42,244.35 L515.77,244.34 L516.13,244.34 L516.48,244.34 L516.83,244.33 L517.18,244.33 L517.54,244.32 L517.89,244.32 L518.24,244.31 L518.60,244.31 L518.95,244.31 L519.30,244.30 L519.66,244.30 L520.01,244.29 L520.36,244.29 L520.71,244.29 L521.07,244.28 L521.42,244.28 L521.77,244.27 L522.12,244.27 L522.48,244.27 L522.83,244.26 L523.18,244.26 L523.54,244.26 L523.89,244.25 L524.24,244.25 L524.59,244.25 L524.95,244.24 L525.30,244.24 L525.65,244.24 L526.00,244.23 L526.36,244.23 L526.71,244.23 L527.06,244.23 L527.42,244.22 L527.77,244.22 L528.12,244.22 L528.47,244.21 L528.83,244.21 L529.18,244.21 L529.53,244.20 L529.88,244.20 L530.24,244.20 L530.59,244.20 L530.94,244.19 L531.29,244.19 L531.65,244.19 L532.00,244.19 L532.35,244.18 L532.71,244.18 L533.06,244.18 L533.41,244.18 L533.76,244.17 L534.12,244.17 L534.47,244.17 L534.82,244.17 L535.17,244.16 L535.53,244.16 L535.88,244.16 L536.23,244.16 L536.58,244.15 L536.94,244.15 L537.29,244.15 L537.64,244.15 L537.99,244.15 L538.35,244.14 L538.70,244.14 L539.05,244.14 L539.40,244.14 L539.76,244.13 L540.11,244.13 L540.46,244.13 L540.81,244.13 L541.17,244.13 L541.52,244.12 L541.87,244.12 L542.22,244.12 L542.58,244.12 L542.75,243.07 L542.92,243.07 L543.09,243.06 L543.27,243.06 L543.44,243.06 L543.61,243.05 L543.78,243.05 L543.96,243.05 L544.13,243.04 L544.30,243.04" fill="none" stroke="#111" stroke-width="2.0" stroke-linejoin="round" stroke-linecap="butt" />
<path d="M425.82,405.00 L427.16,398.37 L428.46,392.01 L429.73,385.91 L430.95,380.06 L432.14,374.45 L433.30,369.08 L434.42,363.92 L435.51,358.97 L436.57,354.23 L437.60,349.68 L438.61,345.31 L439.59,341.13 L440.54,337.12 L441.46,333.27 L442.37,329.58 L443.25,326.04 L444.11,322.65 L444.95,319.39 L445.77,316.27 L446.56,313.28 L447.35,310.41 L448.11,307.65 L448.86,305.01 L449.59,302.48 L450.30,300.05 L451.00,297.73 L451.69,295.49 L452.36,293.35 L453.02,291.30 L453.67,289.33 L454.30,287.44 L454.92,285.63 L455.54,283.89 L456.14,282.23 L456.73,280.63 L457.31,279.10 L457.88,277.63 L458.44,276.22 L459.00,274.87 L459.54,273.57 L460.08,272.33 L460.61,271.14 L461.14,269.99 L461.65,268.90 L462.16,267.85 L462.66,266.84 L463.16,265.87 L463.65,264.94 L464.14,264.06 L464.62,263.20 L465.09,262.39 L465.56,261.60 L466.03,260.85 L466.49,260.13 L466.94,259.44 L467.39,258.77 L467.84,258.14 L468.29,257.53 L468.73,256.94 L469.16,256.38 L469.59,255.84 L470.02,255.33 L470.45,254.83 L470.87,254.36 L471.29,253.90 L471.71,253.47 L472.13,253.05 L472.54,252.65 L472.95,252.26 L473.36,251.89 L473.76,251.54 L474.17,251.20 L474.57,250.88 L474.97,250.56 L475.36,250.26 L475.76,249.98 L476.15,249.70 L476.54,249.44 L476.93,249.18 L477.32,248.94 L477.71,248.71 L478.10,248.49 L478.48,248.27 L478.86,248.07 L479.25,247.87 L479.63,247.68 L480.01,247.51 L480.39,247.33 L480.76,247.17 L481.14,247.01 L481.51,246.86 L481.89,246.72 L482.26,246.58 L482.64,246.45 L483.01,246.32 L483.38,246.20 L483.75,246.09 L484.12,245.98 L484.49,245.87 L484.86,245.77 L485.22,245.68 L485.59,245.59 L485.96,245.51 L486.32,245.42 L486.69,245.35 L487.05,245.27 L487.42,245.20 L487.78,245.14 L488.14,245.07 L488.51,245.01 L488.87,244.96 L489.23,244.90 L489.59,244.85 L489.95,244.80 L490.31,244.76 L490.68,244.71 L491.04,244.67 L491.40,244.63 L491.76,244.59 L492.11,244.56 L492.47,244.52 L492.83,244.49 L493.19,244.46 L493.55,244.43 L493.91,244.40 L494.27,244.38 L494.62,244.35 L494.98,244.32 L495.34,244.30 L495.69,244.28 L496.05,244.26 L496.41,244.24 L496.76,244.22 L497.12,244.20 L497.48,244.18 L497.83,244.16 L498.19,244.15 L498.54,244.13 L498.90,244.11 L499.26,244.10 L499.61,244.08 L499.97,244.07 L500.32,244.06 L500.68,244.04 L501.03,244.03 L501.39,244.02 L501.74,244.01 L502.10,244.00 L502.45,243.99 L502.80,243.97 L503.16,243.96 L503.51,243.95 L503.87,243.94 L504.22,243.94 L504.58,243.93 L504.93,243.92 L505.28,243.91 L505.64,243.90 L505.99,243.89 L506.35,243.88 L506.70,243.88 L507.05,243.87 L507.41,243.86 L507.76,243.85 L508.11,243.85 L508.47,243.84 L508.82,243.83 L509.17,243.83 L509.53,243.82 L509.88,243.81 L510.23,243.81 L510.59,243.80 L510.94,243.80 L511.29,243.79 L511.65,243.79 L512.00,243.78 L512.35,243.77 L512.71,243.77 L513.06,243.76 L513.41,243.76 L513.77,243.75 L514.12,243.75 L514.47,243.74 L514.83,243.74 L515.18,243.74 L515.53,243.73 L515.88,243.73 L516.24,243.72 L516.59,243.72 L516.94,243.71 L517.30,243.71 L517.65,243.71 L518.00,243.70 L518.36,243.70 L518.71,243.69 L519.06,243.69 L519.41,243.69 L519.77,243.68 L520.12,243.68 L520.47,243.67 L520.82,243.67 L521.18,243.67 L521.53,243.66 L521.88,243.66 L522.24,243.66 L522.59,243.65 L522.94,243.65 L523.29,243.65 L523.65,243.64 L524.00,243.64 L524.35,243.64 L524.70,243.63 L525.06,243.63 L525.41,243.63 L525.76,243.63 L526.12,243.62 L526.47,243.62 L526.82,243.62 L527.17,243.61 L527.53,243.61 L527.88,243.61 L528.23,243.60 L528.58,243.60 L528.94,243.60 L529.29,243.60 L529.64,243.59 L529.99,243.59 L530.35,243.59 L530.70,243.59 L531.05,243.58 L531.41,243.58 L531.76,243.58 L532.11,243.58 L532.46,243.57 L532.82,243.57 L533.17,243.57 L533.52,243.57 L533.87,243.56 L534.23,243.56 L534.58,243.56 L534.93,243.56 L535.28,243.55 L535.64,243.55 L535.99,243.55 L536.34,243.55 L536.69,243.55 L537.05,243.54 L537.40,243.54 L537.75,243.54 L538.10,243.54 L538.46,243.53 L538.81,243.53 L539.16,243.53 L539.51,243.53 L539.87,243.53 L540.22,243.52 L540.57,243.52 L540.92,243.52 L541.28,243.52 L541.45,242.47 L541.62,242.47 L541.79,242.46 L541.97,242.46 L542.14,242.46 L542.31,242.45 L542.48,242.45 L542.66,242.45 L542.83,242.44 L543.00,242.44" fill="none" stroke="#ff1414" stroke-width="2.0" stroke-linejoin="round" stroke-linecap="butt" />
</g>
<line x1="460.6" y1="336.00" x2="462.1" y2="336.00" stroke="#222" stroke-width="0.5"/>
<line x1="460.6" y1="349.20" x2="462.1" y2="349.20" stroke="#222" stroke-width="0.5"/>
<line x1="460.6" y1="362.40" x2="462.1" y2="362.40" stroke="#222" stroke-width="0.5"/>
<line x1="460.6" y1="375.60" x2="462.1" y2="375.60" stroke="#222" stroke-width="0.5"/>
<line x1="460.6" y1="388.80" x2="462.1" y2="388.80" stroke="#222" stroke-width="0.5"/>
<line x1="473.43" y1="388.8" x2="473.43" y2="387.3" stroke="#222" stroke-width="0.5"/>
<line x1="486.27" y1="388.8" x2="486.27" y2="387.3" stroke="#222" stroke-width="0.5"/>
<line x1="499.10" y1="388.8" x2="499.10" y2="387.3" stroke="#222" stroke-width="0.5"/>
<line x1="511.93" y1="388.8" x2="511.93" y2="387.3" stroke="#222" stroke-width="0.5"/>
<line x1="524.77" y1="388.8" x2="524.77" y2="387.3" stroke="#222" stroke-width="0.5"/>
<path d="M461.00,355.60 C462.50,355.43 465.17,354.90 470.00,354.60 C474.83,354.30 482.50,354.03 490.00,353.80 C497.50,353.57 507.17,353.37 515.00,353.20 C522.83,353.03 533.33,352.87 537.00,352.80" fill="none" stroke="#111" stroke-width="1.5" stroke-linejoin="round" stroke-linecap="butt" />
<text x="498.50" y="372.30" font-family='"Liberation Sans", sans-serif' font-size="13.5" font-weight="bold" font-style="normal" fill="#000" text-anchor="middle" >24h</text>
<g transform="translate(458.8,322.00) rotate(-90)">
<text x="0.00" y="0.00" font-family='"Liberation Sans", sans-serif' font-size="4.0" font-weight="normal" font-style="normal" fill="#333" text-anchor="middle" >0</text>
</g>
<g transform="translate(458.8,335.20) rotate(-90)">
<text x="0.00" y="0.00" font-family='"Liberation Sans", sans-serif' font-size="4.0" font-weight="normal" font-style="normal" fill="#333" text-anchor="middle" >-4</text>
</g>
<g transform="translate(458.8,348.40) rotate(-90)">
<text x="0.00" y="0.00" font-family='"Liberation Sans", sans-serif' font-size="4.0" font-weight="normal" font-style="normal" fill="#333" text-anchor="middle" >-8</text>
</g>
<g transform="translate(458.8,361.60) rotate(-90)">
<text x="0.00" y="0.00" font-family='"Liberation Sans", sans-serif' font-size="4.0" font-weight="normal" font-style="normal" fill="#333" text-anchor="middle" >-12</text>
</g>
<g transform="translate(458.8,374.80) rotate(-90)">
<text x="0.00" y="0.00" font-family='"Liberation Sans", sans-serif' font-size="4.0" font-weight="normal" font-style="normal" fill="#333" text-anchor="middle" >-16</text>
</g>
<g transform="translate(458.8,388.00) rotate(-90)">
<text x="0.00" y="0.00" font-family='"Liberation Sans", sans-serif' font-size="4.0" font-weight="normal" font-style="normal" fill="#333" text-anchor="middle" >-20</text>
</g>
<text x="460.60" y="393.60" font-family='"Liberation Sans", sans-serif' font-size="4.2" font-weight="normal" font-style="normal" fill="#333" text-anchor="middle" >0</text>
<text x="473.43" y="393.60" font-family='"Liberation Sans", sans-serif' font-size="4.2" font-weight="normal" font-style="normal" fill="#333" text-anchor="middle" >4</text>
<text x="486.27" y="393.60" font-family='"Liberation Sans", sans-serif' font-size="4.2" font-weight="normal" font-style="normal" fill="#333" text-anchor="middle" >8</text>
<text x="499.10" y="393.60" font-family='"Liberation Sans", sans-serif' font-size="4.2" font-weight="normal" font-style="normal" fill="#333" text-anchor="middle" >12</text>
<text x="511.93" y="393.60" font-family='"Liberation Sans", sans-serif' font-size="4.2" font-weight="normal" font-style="normal" fill="#333" text-anchor="middle" >16</text>
<text x="524.77" y="393.60" font-family='"Liberation Sans", sans-serif' font-size="4.2" font-weight="normal" font-style="normal" fill="#333" text-anchor="middle" >20</text>
<text x="537.60" y="393.60" font-family='"Liberation Sans", sans-serif' font-size="4.2" font-weight="normal" font-style="normal" fill="#333" text-anchor="middle" >24</text>
<text x="499.00" y="398.60" font-family='"Liberation Sans", sans-serif' font-size="5.0" font-weight="bold" font-style="normal" fill="#222" text-anchor="middle" >Time (h)</text>
<g transform="translate(453,389) rotate(-90)">
<text x="0.00" y="0.00" font-family='"Liberation Sans", sans-serif' font-size="4.6" font-weight="bold" font-style="normal" fill="#000" text-anchor="start" textLength="66" lengthAdjust="spacingAndGlyphs">Current Density (mA/cm<tspan baseline-shift="super" font-size="3">2</tspan>)</text>
</g>
<line x1="328.9" y1="279.8" x2="352.9" y2="279.8" stroke="#111" stroke-width="1.6"/>
<line x1="328.9" y1="292.5" x2="352.9" y2="292.5" stroke="#ff1414" stroke-width="1.6"/>
<text x="356.20" y="283.50" font-family='"Liberation Sans", sans-serif' font-size="10" font-weight="bold" font-style="italic" fill="#000" text-anchor="start" textLength="27.7" lengthAdjust="spacingAndGlyphs">Initial</text>
<text x="356.20" y="296.20" font-family='"Liberation Sans", sans-serif' font-size="10" font-weight="bold" font-style="italic" fill="#000" text-anchor="start" textLength="86.6" lengthAdjust="spacingAndGlyphs">After 1000 cycles</text>
<text x="360.00" y="429.00" font-family='"Liberation Sans", sans-serif' font-size="14.5" font-weight="bold" font-style="normal" fill="#000" text-anchor="start" textLength="146.6" lengthAdjust="spacingAndGlyphs">Potential (V <tspan font-style="italic">vs.</tspan> RHE)</text>
<g transform="translate(292.6,406.3) rotate(-90)">
<text x="0.00" y="0.00" font-family='"Liberation Sans", sans-serif' font-size="15.5" font-weight="bold" font-style="normal" fill="#000" text-anchor="start" textLength="181" lengthAdjust="spacingAndGlyphs">Current Density (mA/cm<tspan baseline-shift="super" font-size="10.5">2</tspan>)</text>
</g>
</svg></body></html>
